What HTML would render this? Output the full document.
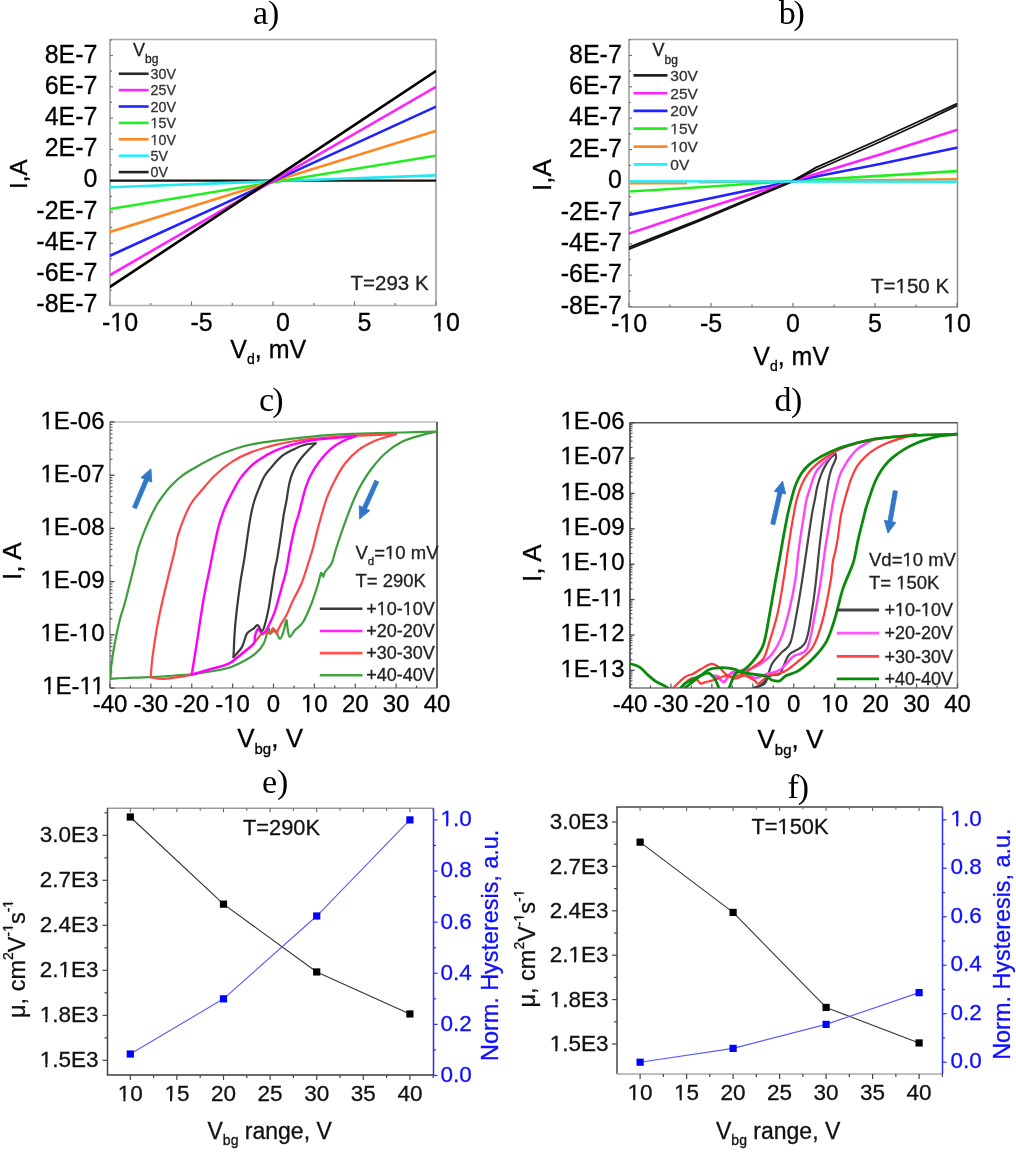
<!DOCTYPE html>
<html><head><meta charset="utf-8"><style>
html,body{margin:0;padding:0;background:#fff;overflow:hidden;}
svg{display:block;}
.blur{filter:blur(0.4px);}

</style></head><body>
<svg class="blur" width="1016" height="1152" viewBox="0 0 1016 1152">
<defs><clipPath id="clipa"><rect x="110" y="39.5" width="326" height="266.0"/></clipPath><clipPath id="clipb"><rect x="629" y="39.5" width="328.5" height="267.5"/></clipPath><clipPath id="clipc"><rect x="110" y="422" width="327" height="266"/></clipPath><clipPath id="clipd"><rect x="630" y="422.7" width="327.5" height="265.3"/></clipPath></defs>
<rect width="1016" height="1152" fill="#fff"/>
<line x1="109.50" y1="39.50" x2="436.50" y2="39.50" stroke="#a8a8a8" stroke-width="1.5"/>
<line x1="436.00" y1="39.50" x2="436.00" y2="305.50" stroke="#999" stroke-width="1.5"/>
<line x1="109.50" y1="305.50" x2="436.50" y2="305.50" stroke="#b0b0b0" stroke-width="1.5"/>
<line x1="110.00" y1="39.50" x2="110.00" y2="305.50" stroke="#999" stroke-width="1.5"/>
<line x1="110.00" y1="305.50" x2="110.00" y2="301.50" stroke="#777" stroke-width="1.2"/>
<line x1="191.50" y1="305.50" x2="191.50" y2="301.50" stroke="#777" stroke-width="1.2"/>
<line x1="273.00" y1="305.50" x2="273.00" y2="301.50" stroke="#777" stroke-width="1.2"/>
<line x1="354.50" y1="305.50" x2="354.50" y2="301.50" stroke="#777" stroke-width="1.2"/>
<line x1="436.00" y1="305.50" x2="436.00" y2="301.50" stroke="#777" stroke-width="1.2"/>
<line x1="150.75" y1="305.50" x2="150.75" y2="303.00" stroke="#777" stroke-width="1.2"/>
<line x1="232.25" y1="305.50" x2="232.25" y2="303.00" stroke="#777" stroke-width="1.2"/>
<line x1="313.75" y1="305.50" x2="313.75" y2="303.00" stroke="#777" stroke-width="1.2"/>
<line x1="395.25" y1="305.50" x2="395.25" y2="303.00" stroke="#777" stroke-width="1.2"/>
<line x1="110.00" y1="290.25" x2="112.00" y2="290.25" stroke="#777" stroke-width="1.2"/>
<line x1="110.00" y1="274.60" x2="113.00" y2="274.60" stroke="#777" stroke-width="1.2"/>
<line x1="110.00" y1="258.95" x2="112.00" y2="258.95" stroke="#777" stroke-width="1.2"/>
<line x1="110.00" y1="243.30" x2="113.00" y2="243.30" stroke="#777" stroke-width="1.2"/>
<line x1="110.00" y1="227.65" x2="112.00" y2="227.65" stroke="#777" stroke-width="1.2"/>
<line x1="110.00" y1="212.00" x2="113.00" y2="212.00" stroke="#777" stroke-width="1.2"/>
<line x1="110.00" y1="196.35" x2="112.00" y2="196.35" stroke="#777" stroke-width="1.2"/>
<line x1="110.00" y1="180.70" x2="113.00" y2="180.70" stroke="#777" stroke-width="1.2"/>
<line x1="110.00" y1="165.05" x2="112.00" y2="165.05" stroke="#777" stroke-width="1.2"/>
<line x1="110.00" y1="149.40" x2="113.00" y2="149.40" stroke="#777" stroke-width="1.2"/>
<line x1="110.00" y1="133.75" x2="112.00" y2="133.75" stroke="#777" stroke-width="1.2"/>
<line x1="110.00" y1="118.10" x2="113.00" y2="118.10" stroke="#777" stroke-width="1.2"/>
<line x1="110.00" y1="102.45" x2="112.00" y2="102.45" stroke="#777" stroke-width="1.2"/>
<line x1="110.00" y1="86.80" x2="113.00" y2="86.80" stroke="#777" stroke-width="1.2"/>
<line x1="110.00" y1="71.15" x2="112.00" y2="71.15" stroke="#777" stroke-width="1.2"/>
<line x1="110.00" y1="55.50" x2="113.00" y2="55.50" stroke="#777" stroke-width="1.2"/>
<line x1="110.00" y1="39.85" x2="112.00" y2="39.85" stroke="#777" stroke-width="1.2"/>
<text x="97.50" y="62.50" font-family="Liberation Sans" font-size="25" text-anchor="end" fill="#000" stroke="#000" stroke-width="0.3">8E-7</text>
<text x="97.50" y="93.72" font-family="Liberation Sans" font-size="25" text-anchor="end" fill="#000" stroke="#000" stroke-width="0.3">6E-7</text>
<text x="97.50" y="124.94" font-family="Liberation Sans" font-size="25" text-anchor="end" fill="#000" stroke="#000" stroke-width="0.3">4E-7</text>
<text x="97.50" y="156.16" font-family="Liberation Sans" font-size="25" text-anchor="end" fill="#000" stroke="#000" stroke-width="0.3">2E-7</text>
<text x="97.50" y="187.38" font-family="Liberation Sans" font-size="25" text-anchor="end" fill="#000" stroke="#000" stroke-width="0.3">0</text>
<text x="97.50" y="218.60" font-family="Liberation Sans" font-size="25" text-anchor="end" fill="#000" stroke="#000" stroke-width="0.3">-2E-7</text>
<text x="97.50" y="249.82" font-family="Liberation Sans" font-size="25" text-anchor="end" fill="#000" stroke="#000" stroke-width="0.3">-4E-7</text>
<text x="97.50" y="281.04" font-family="Liberation Sans" font-size="25" text-anchor="end" fill="#000" stroke="#000" stroke-width="0.3">-6E-7</text>
<text x="97.50" y="312.26" font-family="Liberation Sans" font-size="25" text-anchor="end" fill="#000" stroke="#000" stroke-width="0.3">-8E-7</text>
<text x="120.00" y="330.50" font-family="Liberation Sans" font-size="25" text-anchor="middle" fill="#000" stroke="#000" stroke-width="0.3">-10</text>
<text x="201.50" y="330.50" font-family="Liberation Sans" font-size="25" text-anchor="middle" fill="#000" stroke="#000" stroke-width="0.3">-5</text>
<text x="283.00" y="330.50" font-family="Liberation Sans" font-size="25" text-anchor="middle" fill="#000" stroke="#000" stroke-width="0.3">0</text>
<text x="364.50" y="330.50" font-family="Liberation Sans" font-size="25" text-anchor="middle" fill="#000" stroke="#000" stroke-width="0.3">5</text>
<text x="446.00" y="330.50" font-family="Liberation Sans" font-size="25" text-anchor="middle" fill="#000" stroke="#000" stroke-width="0.3">10</text>
<g clip-path="url(#clipa)">
<path d="M110.00,180.70 L436.00,180.70" fill="none" stroke="#111" stroke-width="2.2" stroke-linejoin="round" stroke-linecap="round"/>
<path d="M110.00,187.20 L435.50,175.40" fill="none" stroke="#22e8f0" stroke-width="2.6" stroke-linejoin="round" stroke-linecap="round"/>
<path d="M110.00,209.00 L435.50,155.70" fill="none" stroke="#22ee22" stroke-width="2.6" stroke-linejoin="round" stroke-linecap="round"/>
<path d="M110.00,231.90 L435.50,130.90" fill="none" stroke="#ff8822" stroke-width="2.6" stroke-linejoin="round" stroke-linecap="round"/>
<path d="M110.00,255.80 L435.50,106.90" fill="none" stroke="#2222ff" stroke-width="2.6" stroke-linejoin="round" stroke-linecap="round"/>
<path d="M110.00,275.00 L435.50,87.10" fill="none" stroke="#ff22ff" stroke-width="2.6" stroke-linejoin="round" stroke-linecap="round"/>
<path d="M110.00,286.90 L435.50,71.30" fill="none" stroke="#000" stroke-width="2.6" stroke-linejoin="round" stroke-linecap="round"/>
</g>
<text x="133.00" y="56.10" font-family="Liberation Sans" text-anchor="start" fill="#222" stroke="#222" stroke-width="0.3"><tspan font-size="18" dy="0">V</tspan><tspan font-size="12" dy="6.5">bg</tspan></text>
<line x1="118.70" y1="73.75" x2="148.60" y2="73.75" stroke="#2a2a2a" stroke-width="2.6"/>
<text x="150.60" y="79.05" font-family="Liberation Sans" font-size="14.3" text-anchor="start" fill="#333" stroke="#333" stroke-width="0.3">30V</text>
<line x1="118.70" y1="90.10" x2="148.60" y2="90.10" stroke="#ff22ff" stroke-width="2.6"/>
<text x="150.60" y="95.40" font-family="Liberation Sans" font-size="14.3" text-anchor="start" fill="#333" stroke="#333" stroke-width="0.3">25V</text>
<line x1="118.70" y1="106.50" x2="148.60" y2="106.50" stroke="#2222ff" stroke-width="2.6"/>
<text x="150.60" y="111.80" font-family="Liberation Sans" font-size="14.3" text-anchor="start" fill="#333" stroke="#333" stroke-width="0.3">20V</text>
<line x1="118.70" y1="122.90" x2="148.60" y2="122.90" stroke="#22ee22" stroke-width="2.6"/>
<text x="150.60" y="128.20" font-family="Liberation Sans" font-size="14.3" text-anchor="start" fill="#333" stroke="#333" stroke-width="0.3">15V</text>
<line x1="118.70" y1="139.30" x2="148.60" y2="139.30" stroke="#ff8822" stroke-width="2.6"/>
<text x="150.60" y="144.60" font-family="Liberation Sans" font-size="14.3" text-anchor="start" fill="#333" stroke="#333" stroke-width="0.3">10V</text>
<line x1="118.70" y1="155.70" x2="148.60" y2="155.70" stroke="#22eeff" stroke-width="2.6"/>
<text x="150.60" y="161.00" font-family="Liberation Sans" font-size="14.3" text-anchor="start" fill="#333" stroke="#333" stroke-width="0.3">5V</text>
<line x1="118.70" y1="172.10" x2="148.60" y2="172.10" stroke="#222" stroke-width="2.6"/>
<text x="150.60" y="177.40" font-family="Liberation Sans" font-size="14.3" text-anchor="start" fill="#333" stroke="#333" stroke-width="0.3">0V</text>
<text x="253.00" y="24.30" font-family="Liberation Serif" font-size="34" text-anchor="start" fill="#000">a</text>
<text x="268.00" y="24.30" font-family="Liberation Serif" font-size="34" text-anchor="start" fill="#000">)</text>
<text x="350.50" y="289.80" font-family="Liberation Sans" font-size="20.5" text-anchor="start" fill="#222" stroke="#222" stroke-width="0.3">T=293 K</text>
<text x="27.30" y="174.20" font-family="Liberation Sans" text-anchor="middle" fill="#000" stroke="#000" stroke-width="0.3" transform="rotate(-90 27.3 174.2)"><tspan font-size="24" dy="0">I,A</tspan></text>
<text x="230.30" y="358.00" font-family="Liberation Sans" text-anchor="start" fill="#000" stroke="#000" stroke-width="0.3"><tspan font-size="25" dy="0">V</tspan><tspan font-size="14" dy="6">d</tspan><tspan font-size="25" dy="-6">, mV</tspan></text>
<line x1="628.50" y1="39.50" x2="958.00" y2="39.50" stroke="#a0a0a0" stroke-width="1.5"/>
<line x1="957.50" y1="39.50" x2="957.50" y2="307.00" stroke="#8a8a8a" stroke-width="1.5"/>
<line x1="628.50" y1="307.00" x2="958.00" y2="307.00" stroke="#8a8a8a" stroke-width="1.5"/>
<line x1="629.00" y1="39.50" x2="629.00" y2="307.00" stroke="#999" stroke-width="1.5"/>
<line x1="629.00" y1="307.00" x2="629.00" y2="303.00" stroke="#777" stroke-width="1.2"/>
<line x1="711.00" y1="307.00" x2="711.00" y2="303.00" stroke="#777" stroke-width="1.2"/>
<line x1="793.00" y1="307.00" x2="793.00" y2="303.00" stroke="#777" stroke-width="1.2"/>
<line x1="875.00" y1="307.00" x2="875.00" y2="303.00" stroke="#777" stroke-width="1.2"/>
<line x1="957.00" y1="307.00" x2="957.00" y2="303.00" stroke="#777" stroke-width="1.2"/>
<line x1="670.00" y1="307.00" x2="670.00" y2="304.50" stroke="#777" stroke-width="1.2"/>
<line x1="752.00" y1="307.00" x2="752.00" y2="304.50" stroke="#777" stroke-width="1.2"/>
<line x1="834.00" y1="307.00" x2="834.00" y2="304.50" stroke="#777" stroke-width="1.2"/>
<line x1="916.00" y1="307.00" x2="916.00" y2="304.50" stroke="#777" stroke-width="1.2"/>
<line x1="629.00" y1="306.60" x2="632.00" y2="306.60" stroke="#777" stroke-width="1.2"/>
<line x1="629.00" y1="290.90" x2="631.00" y2="290.90" stroke="#777" stroke-width="1.2"/>
<line x1="629.00" y1="275.20" x2="632.00" y2="275.20" stroke="#777" stroke-width="1.2"/>
<line x1="629.00" y1="259.50" x2="631.00" y2="259.50" stroke="#777" stroke-width="1.2"/>
<line x1="629.00" y1="243.80" x2="632.00" y2="243.80" stroke="#777" stroke-width="1.2"/>
<line x1="629.00" y1="228.10" x2="631.00" y2="228.10" stroke="#777" stroke-width="1.2"/>
<line x1="629.00" y1="212.40" x2="632.00" y2="212.40" stroke="#777" stroke-width="1.2"/>
<line x1="629.00" y1="196.70" x2="631.00" y2="196.70" stroke="#777" stroke-width="1.2"/>
<line x1="629.00" y1="181.00" x2="632.00" y2="181.00" stroke="#777" stroke-width="1.2"/>
<line x1="629.00" y1="165.30" x2="631.00" y2="165.30" stroke="#777" stroke-width="1.2"/>
<line x1="629.00" y1="149.60" x2="632.00" y2="149.60" stroke="#777" stroke-width="1.2"/>
<line x1="629.00" y1="133.90" x2="631.00" y2="133.90" stroke="#777" stroke-width="1.2"/>
<line x1="629.00" y1="118.20" x2="632.00" y2="118.20" stroke="#777" stroke-width="1.2"/>
<line x1="629.00" y1="102.50" x2="631.00" y2="102.50" stroke="#777" stroke-width="1.2"/>
<line x1="629.00" y1="86.80" x2="632.00" y2="86.80" stroke="#777" stroke-width="1.2"/>
<line x1="629.00" y1="71.10" x2="631.00" y2="71.10" stroke="#777" stroke-width="1.2"/>
<line x1="629.00" y1="55.40" x2="632.00" y2="55.40" stroke="#777" stroke-width="1.2"/>
<line x1="629.00" y1="39.70" x2="631.00" y2="39.70" stroke="#777" stroke-width="1.2"/>
<text x="621.80" y="62.50" font-family="Liberation Sans" font-size="25" text-anchor="end" fill="#000" stroke="#000" stroke-width="0.3">8E-7</text>
<text x="621.80" y="93.90" font-family="Liberation Sans" font-size="25" text-anchor="end" fill="#000" stroke="#000" stroke-width="0.3">6E-7</text>
<text x="621.80" y="125.30" font-family="Liberation Sans" font-size="25" text-anchor="end" fill="#000" stroke="#000" stroke-width="0.3">4E-7</text>
<text x="621.80" y="156.70" font-family="Liberation Sans" font-size="25" text-anchor="end" fill="#000" stroke="#000" stroke-width="0.3">2E-7</text>
<text x="621.80" y="188.10" font-family="Liberation Sans" font-size="25" text-anchor="end" fill="#000" stroke="#000" stroke-width="0.3">0</text>
<text x="621.80" y="219.50" font-family="Liberation Sans" font-size="25" text-anchor="end" fill="#000" stroke="#000" stroke-width="0.3">-2E-7</text>
<text x="621.80" y="250.90" font-family="Liberation Sans" font-size="25" text-anchor="end" fill="#000" stroke="#000" stroke-width="0.3">-4E-7</text>
<text x="621.80" y="282.30" font-family="Liberation Sans" font-size="25" text-anchor="end" fill="#000" stroke="#000" stroke-width="0.3">-6E-7</text>
<text x="621.80" y="313.70" font-family="Liberation Sans" font-size="25" text-anchor="end" fill="#000" stroke="#000" stroke-width="0.3">-8E-7</text>
<text x="629.00" y="332.40" font-family="Liberation Sans" font-size="25" text-anchor="middle" fill="#000" stroke="#000" stroke-width="0.3">-10</text>
<text x="711.00" y="332.40" font-family="Liberation Sans" font-size="25" text-anchor="middle" fill="#000" stroke="#000" stroke-width="0.3">-5</text>
<text x="793.00" y="332.40" font-family="Liberation Sans" font-size="25" text-anchor="middle" fill="#000" stroke="#000" stroke-width="0.3">0</text>
<text x="875.00" y="332.40" font-family="Liberation Sans" font-size="25" text-anchor="middle" fill="#000" stroke="#000" stroke-width="0.3">5</text>
<text x="957.00" y="332.40" font-family="Liberation Sans" font-size="25" text-anchor="middle" fill="#000" stroke="#000" stroke-width="0.3">10</text>
<g clip-path="url(#clipb)">
<path d="M629.00,183.40 L686.00,183.40" fill="none" stroke="#ff8822" stroke-width="2.4" stroke-linejoin="round" stroke-linecap="round"/>
<path d="M700.00,182.20 L956.50,179.30" fill="none" stroke="#ff8822" stroke-width="2.4" stroke-linejoin="round" stroke-linecap="round"/>
<path d="M629.00,191.50 L700.00,187.20 L793.00,181.00 L880.00,175.90 L956.50,171.10" fill="none" stroke="#22ee22" stroke-width="2.6" stroke-linejoin="round" stroke-linecap="round"/>
<path d="M629.00,214.90 L700.00,200.60 L793.00,181.00 L880.00,164.00 L956.50,147.80" fill="none" stroke="#2222ff" stroke-width="2.6" stroke-linejoin="round" stroke-linecap="round"/>
<path d="M629.00,233.50 L700.00,210.10 L793.00,181.00 L880.00,154.40 L956.50,129.90" fill="none" stroke="#ff22ff" stroke-width="2.6" stroke-linejoin="round" stroke-linecap="round"/>
<path d="M629.00,247.30 L700.00,219.30 L793.00,180.60 L806.00,173.30 L815.70,167.60 L846.60,154.00 L878.10,140.00 L917.50,122.00 L956.50,103.90" fill="none" stroke="#111" stroke-width="1.8" stroke-linejoin="round" stroke-linecap="round"/>
<path d="M629.00,249.10 L700.00,220.60 L793.00,181.40 L806.00,174.60 L815.70,170.30 L846.60,156.80 L878.10,142.80 L917.50,124.80 L956.50,105.90" fill="none" stroke="#111" stroke-width="1.8" stroke-linejoin="round" stroke-linecap="round"/>
<path d="M629.00,181.20 L956.50,181.80" fill="none" stroke="#22eeff" stroke-width="2.6" stroke-linejoin="round" stroke-linecap="round"/>
</g>
<text x="652.50" y="56.00" font-family="Liberation Sans" text-anchor="start" fill="#222" stroke="#222" stroke-width="0.3"><tspan font-size="18" dy="0">V</tspan><tspan font-size="12" dy="7.8">bg</tspan></text>
<line x1="633.50" y1="75.40" x2="667.50" y2="75.40" stroke="#222" stroke-width="2.6"/>
<text x="670.30" y="80.70" font-family="Liberation Sans" font-size="15.5" text-anchor="start" fill="#333" stroke="#333" stroke-width="0.3">30V</text>
<line x1="633.50" y1="93.30" x2="667.50" y2="93.30" stroke="#ff22ff" stroke-width="2.6"/>
<text x="670.30" y="98.60" font-family="Liberation Sans" font-size="15.5" text-anchor="start" fill="#333" stroke="#333" stroke-width="0.3">25V</text>
<line x1="633.50" y1="110.90" x2="667.50" y2="110.90" stroke="#2222ff" stroke-width="2.6"/>
<text x="670.30" y="116.20" font-family="Liberation Sans" font-size="15.5" text-anchor="start" fill="#333" stroke="#333" stroke-width="0.3">20V</text>
<line x1="633.50" y1="128.60" x2="667.50" y2="128.60" stroke="#22ee22" stroke-width="2.6"/>
<text x="670.30" y="133.90" font-family="Liberation Sans" font-size="15.5" text-anchor="start" fill="#333" stroke="#333" stroke-width="0.3">15V</text>
<line x1="633.50" y1="146.60" x2="667.50" y2="146.60" stroke="#ff8822" stroke-width="2.6"/>
<text x="670.30" y="151.90" font-family="Liberation Sans" font-size="15.5" text-anchor="start" fill="#333" stroke="#333" stroke-width="0.3">10V</text>
<line x1="633.50" y1="164.40" x2="667.50" y2="164.40" stroke="#22eeff" stroke-width="2.6"/>
<text x="670.30" y="169.70" font-family="Liberation Sans" font-size="15.5" text-anchor="start" fill="#333" stroke="#333" stroke-width="0.3">0V</text>
<text x="778.70" y="24.40" font-family="Liberation Serif" font-size="34" text-anchor="start" fill="#000">b</text>
<text x="793.60" y="24.40" font-family="Liberation Serif" font-size="34" text-anchor="start" fill="#000">)</text>
<text x="871.00" y="293.00" font-family="Liberation Sans" font-size="20.5" text-anchor="start" fill="#222" stroke="#222" stroke-width="0.3">T=150 K</text>
<text x="551.00" y="175.10" font-family="Liberation Sans" text-anchor="middle" fill="#000" stroke="#000" stroke-width="0.3" transform="rotate(-90 551 175.1)"><tspan font-size="25.8" dy="0">I,A</tspan></text>
<text x="753.20" y="364.70" font-family="Liberation Sans" text-anchor="start" fill="#000" stroke="#000" stroke-width="0.3"><tspan font-size="25" dy="0">V</tspan><tspan font-size="14" dy="6">d</tspan><tspan font-size="25" dy="-6">, mV</tspan></text>
<line x1="109.50" y1="422.00" x2="437.50" y2="422.00" stroke="#bbb" stroke-width="1.5"/>
<line x1="437.00" y1="422.00" x2="437.00" y2="688.00" stroke="#333" stroke-width="1.5"/>
<line x1="109.50" y1="688.00" x2="437.50" y2="688.00" stroke="#999" stroke-width="1.5"/>
<line x1="110.00" y1="422.00" x2="110.00" y2="688.00" stroke="#888" stroke-width="1.5"/>
<line x1="110.00" y1="422.00" x2="114.50" y2="422.00" stroke="#444" stroke-width="1.3"/>
<line x1="110.00" y1="459.19" x2="112.50" y2="459.19" stroke="#555" stroke-width="1.1"/>
<line x1="110.00" y1="449.82" x2="112.50" y2="449.82" stroke="#555" stroke-width="1.1"/>
<line x1="110.00" y1="443.17" x2="112.50" y2="443.17" stroke="#555" stroke-width="1.1"/>
<line x1="110.00" y1="438.01" x2="112.50" y2="438.01" stroke="#555" stroke-width="1.1"/>
<line x1="110.00" y1="433.80" x2="112.50" y2="433.80" stroke="#555" stroke-width="1.1"/>
<line x1="110.00" y1="430.24" x2="112.50" y2="430.24" stroke="#555" stroke-width="1.1"/>
<line x1="110.00" y1="427.16" x2="112.50" y2="427.16" stroke="#555" stroke-width="1.1"/>
<line x1="110.00" y1="424.43" x2="112.50" y2="424.43" stroke="#555" stroke-width="1.1"/>
<line x1="110.00" y1="475.20" x2="114.50" y2="475.20" stroke="#444" stroke-width="1.3"/>
<line x1="110.00" y1="512.39" x2="112.50" y2="512.39" stroke="#555" stroke-width="1.1"/>
<line x1="110.00" y1="503.02" x2="112.50" y2="503.02" stroke="#555" stroke-width="1.1"/>
<line x1="110.00" y1="496.37" x2="112.50" y2="496.37" stroke="#555" stroke-width="1.1"/>
<line x1="110.00" y1="491.21" x2="112.50" y2="491.21" stroke="#555" stroke-width="1.1"/>
<line x1="110.00" y1="487.00" x2="112.50" y2="487.00" stroke="#555" stroke-width="1.1"/>
<line x1="110.00" y1="483.44" x2="112.50" y2="483.44" stroke="#555" stroke-width="1.1"/>
<line x1="110.00" y1="480.36" x2="112.50" y2="480.36" stroke="#555" stroke-width="1.1"/>
<line x1="110.00" y1="477.63" x2="112.50" y2="477.63" stroke="#555" stroke-width="1.1"/>
<line x1="110.00" y1="528.40" x2="114.50" y2="528.40" stroke="#444" stroke-width="1.3"/>
<line x1="110.00" y1="565.59" x2="112.50" y2="565.59" stroke="#555" stroke-width="1.1"/>
<line x1="110.00" y1="556.22" x2="112.50" y2="556.22" stroke="#555" stroke-width="1.1"/>
<line x1="110.00" y1="549.57" x2="112.50" y2="549.57" stroke="#555" stroke-width="1.1"/>
<line x1="110.00" y1="544.41" x2="112.50" y2="544.41" stroke="#555" stroke-width="1.1"/>
<line x1="110.00" y1="540.20" x2="112.50" y2="540.20" stroke="#555" stroke-width="1.1"/>
<line x1="110.00" y1="536.64" x2="112.50" y2="536.64" stroke="#555" stroke-width="1.1"/>
<line x1="110.00" y1="533.56" x2="112.50" y2="533.56" stroke="#555" stroke-width="1.1"/>
<line x1="110.00" y1="530.83" x2="112.50" y2="530.83" stroke="#555" stroke-width="1.1"/>
<line x1="110.00" y1="581.60" x2="114.50" y2="581.60" stroke="#444" stroke-width="1.3"/>
<line x1="110.00" y1="618.79" x2="112.50" y2="618.79" stroke="#555" stroke-width="1.1"/>
<line x1="110.00" y1="609.42" x2="112.50" y2="609.42" stroke="#555" stroke-width="1.1"/>
<line x1="110.00" y1="602.77" x2="112.50" y2="602.77" stroke="#555" stroke-width="1.1"/>
<line x1="110.00" y1="597.61" x2="112.50" y2="597.61" stroke="#555" stroke-width="1.1"/>
<line x1="110.00" y1="593.40" x2="112.50" y2="593.40" stroke="#555" stroke-width="1.1"/>
<line x1="110.00" y1="589.84" x2="112.50" y2="589.84" stroke="#555" stroke-width="1.1"/>
<line x1="110.00" y1="586.76" x2="112.50" y2="586.76" stroke="#555" stroke-width="1.1"/>
<line x1="110.00" y1="584.03" x2="112.50" y2="584.03" stroke="#555" stroke-width="1.1"/>
<line x1="110.00" y1="634.80" x2="114.50" y2="634.80" stroke="#444" stroke-width="1.3"/>
<line x1="110.00" y1="671.99" x2="112.50" y2="671.99" stroke="#555" stroke-width="1.1"/>
<line x1="110.00" y1="662.62" x2="112.50" y2="662.62" stroke="#555" stroke-width="1.1"/>
<line x1="110.00" y1="655.97" x2="112.50" y2="655.97" stroke="#555" stroke-width="1.1"/>
<line x1="110.00" y1="650.81" x2="112.50" y2="650.81" stroke="#555" stroke-width="1.1"/>
<line x1="110.00" y1="646.60" x2="112.50" y2="646.60" stroke="#555" stroke-width="1.1"/>
<line x1="110.00" y1="643.04" x2="112.50" y2="643.04" stroke="#555" stroke-width="1.1"/>
<line x1="110.00" y1="639.96" x2="112.50" y2="639.96" stroke="#555" stroke-width="1.1"/>
<line x1="110.00" y1="637.23" x2="112.50" y2="637.23" stroke="#555" stroke-width="1.1"/>
<line x1="110.00" y1="688.00" x2="114.50" y2="688.00" stroke="#444" stroke-width="1.3"/>
<line x1="110.00" y1="688.00" x2="110.00" y2="683.50" stroke="#555" stroke-width="1.2"/>
<line x1="150.88" y1="688.00" x2="150.88" y2="683.50" stroke="#555" stroke-width="1.2"/>
<line x1="191.75" y1="688.00" x2="191.75" y2="683.50" stroke="#555" stroke-width="1.2"/>
<line x1="232.62" y1="688.00" x2="232.62" y2="683.50" stroke="#555" stroke-width="1.2"/>
<line x1="273.50" y1="688.00" x2="273.50" y2="683.50" stroke="#555" stroke-width="1.2"/>
<line x1="314.38" y1="688.00" x2="314.38" y2="683.50" stroke="#555" stroke-width="1.2"/>
<line x1="355.25" y1="688.00" x2="355.25" y2="683.50" stroke="#555" stroke-width="1.2"/>
<line x1="396.12" y1="688.00" x2="396.12" y2="683.50" stroke="#555" stroke-width="1.2"/>
<line x1="437.00" y1="688.00" x2="437.00" y2="683.50" stroke="#555" stroke-width="1.2"/>
<line x1="130.44" y1="688.00" x2="130.44" y2="685.50" stroke="#555" stroke-width="1.2"/>
<line x1="171.31" y1="688.00" x2="171.31" y2="685.50" stroke="#555" stroke-width="1.2"/>
<line x1="212.19" y1="688.00" x2="212.19" y2="685.50" stroke="#555" stroke-width="1.2"/>
<line x1="253.06" y1="688.00" x2="253.06" y2="685.50" stroke="#555" stroke-width="1.2"/>
<line x1="293.94" y1="688.00" x2="293.94" y2="685.50" stroke="#555" stroke-width="1.2"/>
<line x1="334.81" y1="688.00" x2="334.81" y2="685.50" stroke="#555" stroke-width="1.2"/>
<line x1="375.69" y1="688.00" x2="375.69" y2="685.50" stroke="#555" stroke-width="1.2"/>
<line x1="416.56" y1="688.00" x2="416.56" y2="685.50" stroke="#555" stroke-width="1.2"/>
<text x="104.50" y="428.90" font-family="Liberation Sans" font-size="24" text-anchor="end" fill="#000" stroke="#000" stroke-width="0.3">1E-06</text>
<text x="104.50" y="481.84" font-family="Liberation Sans" font-size="24" text-anchor="end" fill="#000" stroke="#000" stroke-width="0.3">1E-07</text>
<text x="104.50" y="534.78" font-family="Liberation Sans" font-size="24" text-anchor="end" fill="#000" stroke="#000" stroke-width="0.3">1E-08</text>
<text x="104.50" y="587.72" font-family="Liberation Sans" font-size="24" text-anchor="end" fill="#000" stroke="#000" stroke-width="0.3">1E-09</text>
<text x="104.50" y="640.66" font-family="Liberation Sans" font-size="24" text-anchor="end" fill="#000" stroke="#000" stroke-width="0.3">1E-10</text>
<text x="104.50" y="693.60" font-family="Liberation Sans" font-size="24" text-anchor="end" fill="#000" stroke="#000" stroke-width="0.3">1E-11</text>
<text x="110.00" y="711.70" font-family="Liberation Sans" font-size="24" text-anchor="middle" fill="#000" stroke="#000" stroke-width="0.3">-40</text>
<text x="150.88" y="711.70" font-family="Liberation Sans" font-size="24" text-anchor="middle" fill="#000" stroke="#000" stroke-width="0.3">-30</text>
<text x="191.75" y="711.70" font-family="Liberation Sans" font-size="24" text-anchor="middle" fill="#000" stroke="#000" stroke-width="0.3">-20</text>
<text x="232.62" y="711.70" font-family="Liberation Sans" font-size="24" text-anchor="middle" fill="#000" stroke="#000" stroke-width="0.3">-10</text>
<text x="273.50" y="711.70" font-family="Liberation Sans" font-size="24" text-anchor="middle" fill="#000" stroke="#000" stroke-width="0.3">0</text>
<text x="314.38" y="711.70" font-family="Liberation Sans" font-size="24" text-anchor="middle" fill="#000" stroke="#000" stroke-width="0.3">10</text>
<text x="355.25" y="711.70" font-family="Liberation Sans" font-size="24" text-anchor="middle" fill="#000" stroke="#000" stroke-width="0.3">20</text>
<text x="396.12" y="711.70" font-family="Liberation Sans" font-size="24" text-anchor="middle" fill="#000" stroke="#000" stroke-width="0.3">30</text>
<text x="437.00" y="711.70" font-family="Liberation Sans" font-size="24" text-anchor="middle" fill="#000" stroke="#000" stroke-width="0.3">40</text>
<g clip-path="url(#clipc)">
<path d="M437.00,431.50 C434.48,432.10 427.75,433.38 421.90,435.10 C416.05,436.82 408.03,438.73 401.90,441.80 C395.77,444.87 390.13,449.05 385.10,453.50 C380.07,457.95 375.60,463.48 371.70,468.50 C367.80,473.52 364.48,478.85 361.70,483.60 C358.92,488.35 357.23,491.98 355.00,497.00 C352.77,502.02 350.53,507.85 348.30,513.70 C346.07,519.55 343.73,525.97 341.60,532.10 C339.47,538.23 337.17,545.28 335.50,550.50 C333.83,555.72 333.35,559.82 331.60,563.40 C329.85,566.98 326.40,569.77 325.00,572.00 C323.60,574.23 323.87,576.63 323.20,576.80 C322.53,576.97 321.83,571.88 321.00,573.00 C320.17,574.12 319.78,578.42 318.20,583.50 C316.62,588.58 314.02,597.08 311.50,603.50 C308.98,609.92 305.88,617.53 303.10,622.00 C300.32,626.47 297.02,627.80 294.80,630.30 C292.58,632.80 291.02,637.38 289.80,637.00 C288.58,636.62 288.07,630.78 287.50,628.00 C286.93,625.22 287.15,619.47 286.40,620.30 C285.65,621.13 284.12,629.93 283.00,633.00 C281.88,636.07 280.98,639.15 279.70,638.70 C278.42,638.25 276.92,631.08 275.30,630.30 C273.68,629.52 271.12,634.28 270.00,634.00 C268.88,633.72 269.67,626.98 268.60,628.60 C267.53,630.22 265.82,639.52 263.60,643.70 C261.38,647.88 258.92,650.63 255.30,653.70 C251.68,656.77 246.93,659.58 241.90,662.10 C236.87,664.62 233.47,666.77 225.10,668.80 C216.73,670.83 200.07,673.18 191.70,674.30 C183.33,675.42 181.88,675.02 174.90,675.50 C167.92,675.98 158.17,676.78 149.80,677.20 C141.43,677.62 131.25,677.73 124.70,678.00 C118.15,678.27 112.87,678.67 110.50,678.80" fill="none" stroke="#3d9e3d" stroke-width="2.2" stroke-linejoin="round" stroke-linecap="round"/>
<path d="M110.50,678.80 C110.63,676.58 110.60,671.35 111.30,665.50 C112.00,659.65 113.30,651.23 114.70,643.70 C116.10,636.17 118.03,627.00 119.70,620.30 C121.37,613.60 123.02,609.63 124.70,603.50 C126.38,597.37 128.12,590.18 129.80,583.50 C131.48,576.82 133.33,569.45 134.80,563.40 C136.27,557.35 136.37,554.08 138.60,547.20 C140.83,540.32 145.22,529.08 148.20,522.10 C151.18,515.12 154.00,509.77 156.50,505.30 C159.00,500.83 160.68,498.63 163.20,495.30 C165.72,491.97 168.53,488.50 171.60,485.30 C174.67,482.10 177.70,479.03 181.60,476.10 C185.50,473.17 190.53,470.35 195.00,467.70 C199.47,465.05 203.38,462.72 208.40,460.20 C213.42,457.68 219.52,454.83 225.10,452.60 C230.68,450.37 236.32,448.38 241.90,446.80 C247.48,445.22 252.58,444.17 258.60,443.10 C264.62,442.03 270.85,441.32 278.00,440.40 C285.15,439.48 292.02,438.55 301.50,437.60 C310.98,436.65 323.75,435.40 334.90,434.70 C346.05,434.00 357.23,433.77 368.40,433.40 C379.57,433.03 390.47,432.82 401.90,432.50 C413.33,432.18 431.15,431.67 437.00,431.50" fill="none" stroke="#3d9e3d" stroke-width="2.2" stroke-linejoin="round" stroke-linecap="round"/>
<path d="M396.00,434.20 C392.80,435.18 383.07,437.45 376.80,440.10 C370.53,442.75 363.70,446.20 358.40,450.10 C353.10,454.00 348.92,458.48 345.00,463.50 C341.08,468.52 337.97,474.35 334.90,480.20 C331.83,486.05 329.38,490.78 326.60,498.60 C323.82,506.42 320.43,519.00 318.20,527.10 C315.97,535.20 314.87,541.15 313.20,547.20 C311.53,553.25 310.15,557.35 308.20,563.40 C306.25,569.45 304.02,577.37 301.50,583.50 C298.98,589.63 295.62,594.90 293.10,600.20 C290.58,605.50 288.35,611.40 286.40,615.30 C284.45,619.20 282.80,621.15 281.40,623.60 C280.00,626.05 278.83,628.32 278.00,630.00 C277.17,631.68 277.23,634.03 276.40,633.70 C275.57,633.37 274.07,628.12 273.00,628.00 C271.93,627.88 271.83,632.05 270.00,633.00 C268.17,633.95 264.73,631.92 262.00,633.70 C259.27,635.48 256.95,640.37 253.60,643.70 C250.25,647.03 246.08,650.35 241.90,653.70 C237.72,657.05 233.53,661.28 228.50,663.80 C223.47,666.32 217.83,666.98 211.70,668.80 C205.57,670.62 196.43,673.45 191.70,674.70 C186.97,675.95 188.05,675.62 183.30,676.30 C178.55,676.98 168.63,678.65 163.20,678.80 C157.77,678.95 152.78,677.47 150.70,677.20" fill="none" stroke="#ff4545" stroke-width="2.2" stroke-linejoin="round" stroke-linecap="round"/>
<path d="M150.70,677.20 C150.97,674.13 151.33,666.62 152.30,658.80 C153.27,650.98 154.97,639.23 156.50,630.30 C158.03,621.37 159.55,614.12 161.50,605.20 C163.45,596.28 165.97,586.00 168.20,576.80 C170.43,567.60 173.22,557.17 174.90,550.00 C176.58,542.83 175.78,541.25 178.30,533.80 C180.82,526.35 186.10,512.55 190.00,505.30 C193.90,498.05 197.52,495.32 201.70,490.30 C205.88,485.28 210.08,479.95 215.10,475.20 C220.12,470.45 225.95,465.57 231.80,461.80 C237.65,458.03 242.50,455.52 250.20,452.60 C257.90,449.68 269.45,446.40 278.00,444.30 C286.55,442.20 292.83,441.17 301.50,440.00 C310.17,438.83 321.63,437.98 330.00,437.30 C338.37,436.62 340.70,436.42 351.70,435.90 C362.70,435.38 388.62,434.48 396.00,434.20" fill="none" stroke="#ff4545" stroke-width="2.2" stroke-linejoin="round" stroke-linecap="round"/>
<path d="M355.80,436.20 C353.43,437.13 345.90,439.55 341.60,441.80 C337.30,444.05 333.83,446.25 330.00,449.70 C326.17,453.15 321.82,458.23 318.60,462.50 C315.38,466.77 312.83,471.20 310.70,475.30 C308.57,479.40 307.20,482.98 305.80,487.10 C304.40,491.22 303.52,495.35 302.30,500.00 C301.08,504.65 299.75,510.48 298.50,515.00 C297.25,519.52 296.25,521.18 294.80,527.10 C293.35,533.02 291.20,543.33 289.80,550.50 C288.40,557.67 287.80,563.77 286.40,570.10 C285.00,576.43 283.35,581.53 281.40,588.50 C279.45,595.47 276.93,605.48 274.70,611.90 C272.47,618.32 269.62,623.65 268.00,627.00 C266.38,630.35 266.00,630.88 265.00,632.00 C264.00,633.12 263.17,634.20 262.00,633.70 C260.83,633.20 259.17,628.62 258.00,629.00 C256.83,629.38 255.73,633.55 255.00,636.00 C254.27,638.45 255.78,640.75 253.60,643.70 C251.42,646.65 246.08,650.35 241.90,653.70 C237.72,657.05 233.53,661.28 228.50,663.80 C223.47,666.32 217.83,666.98 211.70,668.80 C205.57,670.62 195.03,673.72 191.70,674.70" fill="none" stroke="#ff00ff" stroke-width="2.4" stroke-linejoin="round" stroke-linecap="round"/>
<path d="M191.70,674.70 C192.53,669.53 194.75,656.12 196.70,643.70 C198.65,631.28 201.17,613.03 203.40,600.20 C205.63,587.37 208.43,575.07 210.10,566.70 C211.77,558.33 212.02,556.60 213.40,550.00 C214.78,543.40 216.63,533.77 218.40,527.10 C220.17,520.43 222.07,515.03 224.00,510.00 C225.93,504.97 227.37,502.03 230.00,496.90 C232.63,491.77 236.52,484.12 239.80,479.20 C243.08,474.28 246.42,470.68 249.70,467.40 C252.98,464.12 255.40,462.20 259.50,459.50 C263.60,456.80 269.37,453.50 274.30,451.20 C279.23,448.90 284.18,447.27 289.10,445.70 C294.02,444.13 298.88,442.85 303.80,441.80 C308.72,440.75 314.23,439.97 318.60,439.40 C322.97,438.83 323.80,438.93 330.00,438.40 C336.20,437.87 351.50,436.57 355.80,436.20" fill="none" stroke="#ff00ff" stroke-width="2.4" stroke-linejoin="round" stroke-linecap="round"/>
<path d="M315.60,443.30 C314.45,444.37 311.15,447.17 308.70,449.70 C306.25,452.23 303.18,455.55 300.90,458.50 C298.62,461.45 296.65,464.28 295.00,467.40 C293.35,470.52 292.07,473.92 291.00,477.20 C289.93,480.48 289.33,483.30 288.60,487.10 C287.87,490.90 287.38,495.57 286.60,500.00 C285.82,504.43 284.92,507.52 283.90,513.70 C282.88,519.88 281.62,529.65 280.50,537.10 C279.38,544.55 278.17,552.92 277.20,558.40 C276.23,563.88 275.68,564.43 274.70,570.00 C273.72,575.57 272.32,585.37 271.30,591.80 C270.28,598.23 269.73,602.90 268.60,608.60 C267.47,614.30 265.60,622.27 264.50,626.00 C263.40,629.73 263.00,631.00 262.00,631.00 C261.00,631.00 259.35,626.95 258.50,626.00 C257.65,625.05 257.72,624.87 256.90,625.30 C256.08,625.73 255.27,627.20 253.60,628.60 C251.93,630.00 248.85,630.62 246.90,633.70 C244.95,636.78 244.13,643.20 241.90,647.10 C239.67,651.00 234.90,655.43 233.50,657.10" fill="none" stroke="#3a3a3a" stroke-width="2.2" stroke-linejoin="round" stroke-linecap="round"/>
<path d="M233.50,657.10 C233.78,651.80 234.08,637.57 235.20,625.30 C236.32,613.03 238.67,594.65 240.20,583.50 C241.73,572.35 243.00,567.52 244.40,558.40 C245.80,549.28 247.42,536.53 248.60,528.80 C249.78,521.07 250.50,516.80 251.50,512.00 C252.50,507.20 253.27,504.15 254.60,500.00 C255.93,495.85 257.87,491.05 259.50,487.10 C261.13,483.15 262.43,479.58 264.40,476.30 C266.37,473.02 268.50,470.68 271.30,467.40 C274.10,464.12 277.58,459.55 281.20,456.60 C284.82,453.65 289.07,451.67 293.00,449.70 C296.93,447.73 301.03,445.87 304.80,444.80 C308.57,443.73 313.80,443.55 315.60,443.30" fill="none" stroke="#3a3a3a" stroke-width="2.2" stroke-linejoin="round" stroke-linecap="round"/>
</g>
<line x1="319.80" y1="608.70" x2="362.50" y2="608.70" stroke="#3a3a3a" stroke-width="2.6"/>
<text x="366.30" y="614.90" font-family="Liberation Sans" font-size="18" text-anchor="start" fill="#222" stroke="#222" stroke-width="0.3">+10-10V</text>
<line x1="319.80" y1="631.00" x2="362.50" y2="631.00" stroke="#ff22ff" stroke-width="2.6"/>
<text x="366.30" y="637.20" font-family="Liberation Sans" font-size="18" text-anchor="start" fill="#222" stroke="#222" stroke-width="0.3">+20-20V</text>
<line x1="319.80" y1="653.10" x2="362.50" y2="653.10" stroke="#ff5050" stroke-width="2.6"/>
<text x="366.30" y="659.30" font-family="Liberation Sans" font-size="18" text-anchor="start" fill="#222" stroke="#222" stroke-width="0.3">+30-30V</text>
<line x1="319.80" y1="675.20" x2="362.50" y2="675.20" stroke="#45a545" stroke-width="2.6"/>
<text x="366.30" y="681.40" font-family="Liberation Sans" font-size="18" text-anchor="start" fill="#222" stroke="#222" stroke-width="0.3">+40-40V</text>
<text x="258.90" y="410.50" font-family="Liberation Serif" font-size="34" text-anchor="start" fill="#000">c</text>
<text x="272.20" y="410.50" font-family="Liberation Serif" font-size="34" text-anchor="start" fill="#000">)</text>
<text x="355.50" y="558.60" font-family="Liberation Sans" text-anchor="start" fill="#222" stroke="#222" stroke-width="0.3"><tspan font-size="18.5" dy="0">V</tspan><tspan font-size="11.5" dy="6.5">d</tspan><tspan font-size="18.5" dy="-6.5">=10 mV</tspan></text>
<text x="355.50" y="586.80" font-family="Liberation Sans" font-size="18.5" text-anchor="start" fill="#222" stroke="#222" stroke-width="0.3">T= 290K</text>
<text x="21.00" y="561.20" font-family="Liberation Sans" text-anchor="middle" fill="#000" stroke="#000" stroke-width="0.3" transform="rotate(-90 21 561.2)"><tspan font-size="26" dy="0">I, A</tspan></text>
<text x="237.20" y="747.10" font-family="Liberation Sans" text-anchor="start" fill="#000" stroke="#000" stroke-width="0.3"><tspan font-size="26" dy="0">V</tspan><tspan font-size="15" dy="7">bg</tspan><tspan font-size="26" dy="-7">, V</tspan></text>
<path d="M136.44,508.81 L148.28,480.67 L151.78,482.15 L151.00,468.80 L140.91,477.57 L144.41,479.05 L132.56,507.19Z" fill="#3077c9" stroke="#3077c9" stroke-width="0.8" stroke-linejoin="round"/>
<path d="M374.89,480.23 L362.65,507.20 L359.19,505.63 L359.60,519.00 L369.93,510.51 L366.47,508.94 L378.71,481.97Z" fill="#3077c9" stroke="#3077c9" stroke-width="0.8" stroke-linejoin="round"/>
<line x1="629.50" y1="422.70" x2="958.00" y2="422.70" stroke="#555" stroke-width="1.5"/>
<line x1="957.50" y1="422.70" x2="957.50" y2="688.00" stroke="#888" stroke-width="1.5"/>
<line x1="629.50" y1="688.00" x2="958.00" y2="688.00" stroke="#777" stroke-width="1.5"/>
<line x1="630.00" y1="422.70" x2="630.00" y2="688.00" stroke="#333" stroke-width="1.5"/>
<line x1="630.00" y1="422.70" x2="634.50" y2="422.70" stroke="#444" stroke-width="1.3"/>
<line x1="630.00" y1="447.42" x2="632.50" y2="447.42" stroke="#555" stroke-width="1.1"/>
<line x1="630.00" y1="441.19" x2="632.50" y2="441.19" stroke="#555" stroke-width="1.1"/>
<line x1="630.00" y1="436.78" x2="632.50" y2="436.78" stroke="#555" stroke-width="1.1"/>
<line x1="630.00" y1="433.35" x2="632.50" y2="433.35" stroke="#555" stroke-width="1.1"/>
<line x1="630.00" y1="430.55" x2="632.50" y2="430.55" stroke="#555" stroke-width="1.1"/>
<line x1="630.00" y1="428.18" x2="632.50" y2="428.18" stroke="#555" stroke-width="1.1"/>
<line x1="630.00" y1="426.13" x2="632.50" y2="426.13" stroke="#555" stroke-width="1.1"/>
<line x1="630.00" y1="424.32" x2="632.50" y2="424.32" stroke="#555" stroke-width="1.1"/>
<line x1="630.00" y1="458.07" x2="634.50" y2="458.07" stroke="#444" stroke-width="1.3"/>
<line x1="630.00" y1="482.79" x2="632.50" y2="482.79" stroke="#555" stroke-width="1.1"/>
<line x1="630.00" y1="476.56" x2="632.50" y2="476.56" stroke="#555" stroke-width="1.1"/>
<line x1="630.00" y1="472.15" x2="632.50" y2="472.15" stroke="#555" stroke-width="1.1"/>
<line x1="630.00" y1="468.72" x2="632.50" y2="468.72" stroke="#555" stroke-width="1.1"/>
<line x1="630.00" y1="465.92" x2="632.50" y2="465.92" stroke="#555" stroke-width="1.1"/>
<line x1="630.00" y1="463.55" x2="632.50" y2="463.55" stroke="#555" stroke-width="1.1"/>
<line x1="630.00" y1="461.50" x2="632.50" y2="461.50" stroke="#555" stroke-width="1.1"/>
<line x1="630.00" y1="459.69" x2="632.50" y2="459.69" stroke="#555" stroke-width="1.1"/>
<line x1="630.00" y1="493.44" x2="634.50" y2="493.44" stroke="#444" stroke-width="1.3"/>
<line x1="630.00" y1="518.16" x2="632.50" y2="518.16" stroke="#555" stroke-width="1.1"/>
<line x1="630.00" y1="511.93" x2="632.50" y2="511.93" stroke="#555" stroke-width="1.1"/>
<line x1="630.00" y1="507.52" x2="632.50" y2="507.52" stroke="#555" stroke-width="1.1"/>
<line x1="630.00" y1="504.09" x2="632.50" y2="504.09" stroke="#555" stroke-width="1.1"/>
<line x1="630.00" y1="501.29" x2="632.50" y2="501.29" stroke="#555" stroke-width="1.1"/>
<line x1="630.00" y1="498.92" x2="632.50" y2="498.92" stroke="#555" stroke-width="1.1"/>
<line x1="630.00" y1="496.87" x2="632.50" y2="496.87" stroke="#555" stroke-width="1.1"/>
<line x1="630.00" y1="495.06" x2="632.50" y2="495.06" stroke="#555" stroke-width="1.1"/>
<line x1="630.00" y1="528.81" x2="634.50" y2="528.81" stroke="#444" stroke-width="1.3"/>
<line x1="630.00" y1="553.53" x2="632.50" y2="553.53" stroke="#555" stroke-width="1.1"/>
<line x1="630.00" y1="547.30" x2="632.50" y2="547.30" stroke="#555" stroke-width="1.1"/>
<line x1="630.00" y1="542.89" x2="632.50" y2="542.89" stroke="#555" stroke-width="1.1"/>
<line x1="630.00" y1="539.46" x2="632.50" y2="539.46" stroke="#555" stroke-width="1.1"/>
<line x1="630.00" y1="536.66" x2="632.50" y2="536.66" stroke="#555" stroke-width="1.1"/>
<line x1="630.00" y1="534.29" x2="632.50" y2="534.29" stroke="#555" stroke-width="1.1"/>
<line x1="630.00" y1="532.24" x2="632.50" y2="532.24" stroke="#555" stroke-width="1.1"/>
<line x1="630.00" y1="530.43" x2="632.50" y2="530.43" stroke="#555" stroke-width="1.1"/>
<line x1="630.00" y1="564.18" x2="634.50" y2="564.18" stroke="#444" stroke-width="1.3"/>
<line x1="630.00" y1="588.90" x2="632.50" y2="588.90" stroke="#555" stroke-width="1.1"/>
<line x1="630.00" y1="582.67" x2="632.50" y2="582.67" stroke="#555" stroke-width="1.1"/>
<line x1="630.00" y1="578.26" x2="632.50" y2="578.26" stroke="#555" stroke-width="1.1"/>
<line x1="630.00" y1="574.83" x2="632.50" y2="574.83" stroke="#555" stroke-width="1.1"/>
<line x1="630.00" y1="572.03" x2="632.50" y2="572.03" stroke="#555" stroke-width="1.1"/>
<line x1="630.00" y1="569.66" x2="632.50" y2="569.66" stroke="#555" stroke-width="1.1"/>
<line x1="630.00" y1="567.61" x2="632.50" y2="567.61" stroke="#555" stroke-width="1.1"/>
<line x1="630.00" y1="565.80" x2="632.50" y2="565.80" stroke="#555" stroke-width="1.1"/>
<line x1="630.00" y1="599.55" x2="634.50" y2="599.55" stroke="#444" stroke-width="1.3"/>
<line x1="630.00" y1="624.27" x2="632.50" y2="624.27" stroke="#555" stroke-width="1.1"/>
<line x1="630.00" y1="618.04" x2="632.50" y2="618.04" stroke="#555" stroke-width="1.1"/>
<line x1="630.00" y1="613.63" x2="632.50" y2="613.63" stroke="#555" stroke-width="1.1"/>
<line x1="630.00" y1="610.20" x2="632.50" y2="610.20" stroke="#555" stroke-width="1.1"/>
<line x1="630.00" y1="607.40" x2="632.50" y2="607.40" stroke="#555" stroke-width="1.1"/>
<line x1="630.00" y1="605.03" x2="632.50" y2="605.03" stroke="#555" stroke-width="1.1"/>
<line x1="630.00" y1="602.98" x2="632.50" y2="602.98" stroke="#555" stroke-width="1.1"/>
<line x1="630.00" y1="601.17" x2="632.50" y2="601.17" stroke="#555" stroke-width="1.1"/>
<line x1="630.00" y1="634.92" x2="634.50" y2="634.92" stroke="#444" stroke-width="1.3"/>
<line x1="630.00" y1="659.64" x2="632.50" y2="659.64" stroke="#555" stroke-width="1.1"/>
<line x1="630.00" y1="653.41" x2="632.50" y2="653.41" stroke="#555" stroke-width="1.1"/>
<line x1="630.00" y1="649.00" x2="632.50" y2="649.00" stroke="#555" stroke-width="1.1"/>
<line x1="630.00" y1="645.57" x2="632.50" y2="645.57" stroke="#555" stroke-width="1.1"/>
<line x1="630.00" y1="642.77" x2="632.50" y2="642.77" stroke="#555" stroke-width="1.1"/>
<line x1="630.00" y1="640.40" x2="632.50" y2="640.40" stroke="#555" stroke-width="1.1"/>
<line x1="630.00" y1="638.35" x2="632.50" y2="638.35" stroke="#555" stroke-width="1.1"/>
<line x1="630.00" y1="636.54" x2="632.50" y2="636.54" stroke="#555" stroke-width="1.1"/>
<line x1="630.00" y1="670.29" x2="634.50" y2="670.29" stroke="#444" stroke-width="1.3"/>
<line x1="630.00" y1="684.37" x2="632.50" y2="684.37" stroke="#555" stroke-width="1.1"/>
<line x1="630.00" y1="680.94" x2="632.50" y2="680.94" stroke="#555" stroke-width="1.1"/>
<line x1="630.00" y1="678.14" x2="632.50" y2="678.14" stroke="#555" stroke-width="1.1"/>
<line x1="630.00" y1="675.77" x2="632.50" y2="675.77" stroke="#555" stroke-width="1.1"/>
<line x1="630.00" y1="673.72" x2="632.50" y2="673.72" stroke="#555" stroke-width="1.1"/>
<line x1="630.00" y1="671.91" x2="632.50" y2="671.91" stroke="#555" stroke-width="1.1"/>
<line x1="629.99" y1="688.00" x2="629.99" y2="683.50" stroke="#555" stroke-width="1.2"/>
<line x1="670.93" y1="688.00" x2="670.93" y2="683.50" stroke="#555" stroke-width="1.2"/>
<line x1="711.87" y1="688.00" x2="711.87" y2="683.50" stroke="#555" stroke-width="1.2"/>
<line x1="752.81" y1="688.00" x2="752.81" y2="683.50" stroke="#555" stroke-width="1.2"/>
<line x1="793.75" y1="688.00" x2="793.75" y2="683.50" stroke="#555" stroke-width="1.2"/>
<line x1="834.69" y1="688.00" x2="834.69" y2="683.50" stroke="#555" stroke-width="1.2"/>
<line x1="875.63" y1="688.00" x2="875.63" y2="683.50" stroke="#555" stroke-width="1.2"/>
<line x1="916.57" y1="688.00" x2="916.57" y2="683.50" stroke="#555" stroke-width="1.2"/>
<line x1="957.51" y1="688.00" x2="957.51" y2="683.50" stroke="#555" stroke-width="1.2"/>
<line x1="650.46" y1="688.00" x2="650.46" y2="685.50" stroke="#555" stroke-width="1.2"/>
<line x1="691.40" y1="688.00" x2="691.40" y2="685.50" stroke="#555" stroke-width="1.2"/>
<line x1="732.34" y1="688.00" x2="732.34" y2="685.50" stroke="#555" stroke-width="1.2"/>
<line x1="773.28" y1="688.00" x2="773.28" y2="685.50" stroke="#555" stroke-width="1.2"/>
<line x1="814.22" y1="688.00" x2="814.22" y2="685.50" stroke="#555" stroke-width="1.2"/>
<line x1="855.16" y1="688.00" x2="855.16" y2="685.50" stroke="#555" stroke-width="1.2"/>
<line x1="896.10" y1="688.00" x2="896.10" y2="685.50" stroke="#555" stroke-width="1.2"/>
<line x1="937.04" y1="688.00" x2="937.04" y2="685.50" stroke="#555" stroke-width="1.2"/>
<text x="624.50" y="428.90" font-family="Liberation Sans" font-size="24" text-anchor="end" fill="#000" stroke="#000" stroke-width="0.3">1E-06</text>
<text x="624.50" y="464.29" font-family="Liberation Sans" font-size="24" text-anchor="end" fill="#000" stroke="#000" stroke-width="0.3">1E-07</text>
<text x="624.50" y="499.68" font-family="Liberation Sans" font-size="24" text-anchor="end" fill="#000" stroke="#000" stroke-width="0.3">1E-08</text>
<text x="624.50" y="535.07" font-family="Liberation Sans" font-size="24" text-anchor="end" fill="#000" stroke="#000" stroke-width="0.3">1E-09</text>
<text x="624.50" y="570.46" font-family="Liberation Sans" font-size="24" text-anchor="end" fill="#000" stroke="#000" stroke-width="0.3">1E-10</text>
<text x="624.50" y="605.85" font-family="Liberation Sans" font-size="24" text-anchor="end" fill="#000" stroke="#000" stroke-width="0.3">1E-11</text>
<text x="624.50" y="641.24" font-family="Liberation Sans" font-size="24" text-anchor="end" fill="#000" stroke="#000" stroke-width="0.3">1E-12</text>
<text x="624.50" y="676.63" font-family="Liberation Sans" font-size="24" text-anchor="end" fill="#000" stroke="#000" stroke-width="0.3">1E-13</text>
<text x="629.99" y="712.00" font-family="Liberation Sans" font-size="24" text-anchor="middle" fill="#000" stroke="#000" stroke-width="0.3">-40</text>
<text x="670.93" y="712.00" font-family="Liberation Sans" font-size="24" text-anchor="middle" fill="#000" stroke="#000" stroke-width="0.3">-30</text>
<text x="711.87" y="712.00" font-family="Liberation Sans" font-size="24" text-anchor="middle" fill="#000" stroke="#000" stroke-width="0.3">-20</text>
<text x="752.81" y="712.00" font-family="Liberation Sans" font-size="24" text-anchor="middle" fill="#000" stroke="#000" stroke-width="0.3">-10</text>
<text x="793.75" y="712.00" font-family="Liberation Sans" font-size="24" text-anchor="middle" fill="#000" stroke="#000" stroke-width="0.3">0</text>
<text x="834.69" y="712.00" font-family="Liberation Sans" font-size="24" text-anchor="middle" fill="#000" stroke="#000" stroke-width="0.3">10</text>
<text x="875.63" y="712.00" font-family="Liberation Sans" font-size="24" text-anchor="middle" fill="#000" stroke="#000" stroke-width="0.3">20</text>
<text x="916.57" y="712.00" font-family="Liberation Sans" font-size="24" text-anchor="middle" fill="#000" stroke="#000" stroke-width="0.3">30</text>
<text x="957.51" y="712.00" font-family="Liberation Sans" font-size="24" text-anchor="middle" fill="#000" stroke="#000" stroke-width="0.3">40</text>
<g clip-path="url(#clipd)">
<path d="M835.50,454.10 C835.57,454.83 836.48,456.28 835.90,458.50 C835.32,460.72 833.13,464.28 832.00,467.40 C830.87,470.52 829.92,473.58 829.10,477.20 C828.28,480.82 827.68,485.30 827.10,489.10 C826.52,492.90 826.20,495.68 825.60,500.00 C825.00,504.32 824.18,509.97 823.50,515.00 C822.82,520.03 822.23,524.37 821.50,530.20 C820.77,536.03 820.00,541.78 819.10,550.00 C818.20,558.22 817.25,569.65 816.10,579.50 C814.95,589.35 814.00,598.60 812.20,609.10 C810.40,619.60 809.08,634.97 805.30,642.50 C801.52,650.03 793.12,650.37 789.50,654.30 C785.88,658.23 785.23,662.82 783.60,666.10 C781.97,669.38 781.97,672.35 779.70,674.00 C777.43,675.65 772.95,674.33 770.00,676.00 C767.05,677.67 764.67,682.00 762.00,684.00 C759.33,686.00 755.33,687.33 754.00,688.00" fill="none" stroke="#444" stroke-width="2.2" stroke-linejoin="round" stroke-linecap="round"/>
<path d="M754.00,688.00 C755.00,687.67 758.02,687.02 760.00,686.00 C761.98,684.98 763.93,685.53 765.90,681.90 C767.87,678.27 769.17,669.12 771.80,664.20 C774.43,659.28 778.58,656.02 781.70,652.40 C784.82,648.78 787.88,649.72 790.50,642.50 C793.12,635.28 795.43,619.60 797.40,609.10 C799.37,598.60 800.82,589.02 802.30,579.50 C803.78,569.98 805.10,560.22 806.30,552.00 C807.50,543.78 808.50,536.87 809.50,530.20 C810.50,523.53 811.42,517.03 812.30,512.00 C813.18,506.97 813.98,504.15 814.80,500.00 C815.62,495.85 816.13,491.38 817.20,487.10 C818.27,482.82 819.72,478.08 821.20,474.30 C822.68,470.52 824.47,467.18 826.10,464.40 C827.73,461.62 829.43,459.32 831.00,457.60 C832.57,455.88 834.75,454.68 835.50,454.10" fill="none" stroke="#444" stroke-width="2.2" stroke-linejoin="round" stroke-linecap="round"/>
<path d="M875.60,438.70 C874.20,439.42 870.18,441.30 867.20,443.00 C864.22,444.70 860.67,446.35 857.70,448.90 C854.73,451.45 851.77,455.15 849.40,458.30 C847.03,461.45 845.07,465.03 843.50,467.80 C841.93,470.57 841.17,471.70 840.00,474.90 C838.83,478.10 837.58,482.82 836.50,487.00 C835.42,491.18 834.43,495.42 833.50,500.00 C832.57,504.58 832.00,508.15 830.90,514.50 C829.80,520.85 827.88,532.18 826.90,538.10 C825.92,544.02 825.98,543.10 825.00,550.00 C824.02,556.90 822.65,569.00 821.00,579.50 C819.35,590.00 817.40,601.52 815.10,613.00 C812.80,624.48 810.80,641.18 807.20,648.40 C803.60,655.62 798.08,652.68 793.50,656.30 C788.92,659.92 784.17,667.15 779.70,670.10 C775.23,673.05 770.82,672.68 766.70,674.00 C762.58,675.32 758.67,678.27 755.00,678.00 C751.33,677.73 748.53,673.33 744.70,672.40 C740.87,671.47 735.42,670.82 732.00,672.40 C728.58,673.98 726.53,681.30 724.20,681.90 C721.87,682.50 720.05,676.98 718.00,676.00 C715.95,675.02 712.92,676.00 711.90,676.00" fill="none" stroke="#ff44ff" stroke-width="2.4" stroke-linejoin="round" stroke-linecap="round"/>
<path d="M711.90,676.00 C712.92,676.33 715.95,677.02 718.00,678.00 C720.05,678.98 722.20,682.57 724.20,681.90 C726.20,681.23 727.37,675.65 730.00,674.00 C732.63,672.35 736.33,673.00 740.00,672.00 C743.67,671.00 748.67,669.30 752.00,668.00 C755.33,666.70 756.70,666.48 760.00,664.20 C763.30,661.92 768.18,658.90 771.80,654.30 C775.42,649.70 778.75,644.13 781.70,636.60 C784.65,629.07 787.22,618.62 789.50,609.10 C791.78,599.58 793.92,589.02 795.40,579.50 C796.88,569.98 797.38,560.22 798.40,552.00 C799.42,543.78 800.57,536.37 801.50,530.20 C802.43,524.03 803.18,520.03 804.00,515.00 C804.82,509.97 805.33,504.65 806.40,500.00 C807.47,495.35 808.92,491.55 810.40,487.10 C811.88,482.65 813.33,477.08 815.30,473.30 C817.27,469.52 819.90,467.02 822.20,464.40 C824.50,461.78 826.97,459.72 829.10,457.60 C831.23,455.48 832.35,453.47 835.00,451.70 C837.65,449.93 840.83,448.57 845.00,447.00 C849.17,445.43 854.90,443.68 860.00,442.30 C865.10,440.92 873.00,439.30 875.60,438.70" fill="none" stroke="#ff44ff" stroke-width="2.4" stroke-linejoin="round" stroke-linecap="round"/>
<path d="M916.00,434.20 C913.17,434.98 903.80,437.43 899.00,438.90 C894.20,440.37 891.13,441.33 887.20,443.00 C883.27,444.67 878.93,446.73 875.40,448.90 C871.87,451.07 868.95,453.25 866.00,456.00 C863.05,458.75 860.07,461.87 857.70,465.40 C855.33,468.93 853.57,472.87 851.80,477.20 C850.03,481.53 848.48,486.87 847.10,491.40 C845.72,495.93 844.58,500.07 843.50,504.40 C842.42,508.73 841.55,511.78 840.60,517.40 C839.65,523.02 838.70,532.33 837.80,538.10 C836.90,543.87 836.03,548.02 835.20,552.00 C834.37,555.98 833.52,557.42 832.80,562.00 C832.08,566.58 832.53,570.02 830.90,579.50 C829.27,588.98 825.97,607.73 823.00,618.90 C820.03,630.07 817.03,639.62 813.10,646.50 C809.17,653.38 804.32,655.95 799.40,660.20 C794.48,664.45 788.85,669.37 783.60,672.00 C778.35,674.63 772.02,674.08 767.90,676.00 C763.78,677.92 761.20,682.78 758.90,683.50 C756.60,684.22 756.47,681.62 754.10,680.30 C751.73,678.98 747.85,675.87 744.70,675.60 C741.55,675.33 738.35,678.97 735.20,678.70 C732.05,678.43 728.42,675.83 725.80,674.00 C723.18,672.17 721.87,669.40 719.50,667.70 C717.13,666.00 714.75,663.53 711.60,663.80 C708.45,664.07 703.75,667.60 700.60,669.30 C697.45,671.00 695.33,672.68 692.70,674.00 C690.07,675.32 688.22,674.70 684.80,677.20 C681.38,679.70 674.30,687.03 672.20,689.00" fill="none" stroke="#ff3838" stroke-width="2.2" stroke-linejoin="round" stroke-linecap="round"/>
<path d="M671.00,689.00 C672.78,688.73 678.87,688.85 681.70,687.40 C684.53,685.95 685.78,681.87 688.00,680.30 C690.22,678.73 692.90,677.47 695.00,678.00 C697.10,678.53 698.77,682.83 700.60,683.50 C702.43,684.17 703.90,682.53 706.00,682.00 C708.10,681.47 710.03,681.30 713.20,680.30 C716.37,679.30 721.37,676.63 725.00,676.00 C728.63,675.37 731.50,677.10 735.00,676.50 C738.50,675.90 742.82,674.13 746.00,672.40 C749.18,670.67 751.17,668.45 754.10,666.10 C757.03,663.75 760.98,662.55 763.60,658.30 C766.22,654.05 767.45,648.15 769.80,640.60 C772.15,633.05 775.40,623.18 777.70,613.00 C780.00,602.82 781.95,589.67 783.60,579.50 C785.25,569.33 786.37,560.22 787.60,552.00 C788.83,543.78 790.00,536.37 791.00,530.20 C792.00,524.03 792.67,520.03 793.60,515.00 C794.53,509.97 795.28,504.98 796.60,500.00 C797.92,495.02 799.70,489.38 801.50,485.10 C803.30,480.82 805.27,477.42 807.40,474.30 C809.53,471.18 811.52,469.03 814.30,466.40 C817.08,463.77 821.15,460.63 824.10,458.50 C827.05,456.37 829.35,455.18 832.00,453.60 C834.65,452.02 836.17,450.68 840.00,449.00 C843.83,447.32 850.00,444.95 855.00,443.50 C860.00,442.05 865.00,441.25 870.00,440.30 C875.00,439.35 880.00,438.52 885.00,437.80 C890.00,437.08 894.83,436.60 900.00,436.00 C905.17,435.40 913.33,434.50 916.00,434.20" fill="none" stroke="#ff3838" stroke-width="2.2" stroke-linejoin="round" stroke-linecap="round"/>
<path d="M957.00,434.20 C954.23,434.48 945.13,435.12 940.40,435.90 C935.67,436.68 932.53,437.72 928.60,438.90 C924.67,440.08 920.73,441.33 916.80,443.00 C912.87,444.67 908.95,446.53 905.00,448.90 C901.05,451.27 896.45,454.45 893.10,457.20 C889.75,459.95 887.45,462.25 884.90,465.40 C882.35,468.55 879.77,472.55 877.80,476.10 C875.83,479.65 874.48,483.17 873.10,486.70 C871.72,490.23 870.68,493.75 869.50,497.30 C868.32,500.85 867.08,504.22 866.00,508.00 C864.92,511.78 864.25,514.98 863.00,520.00 C861.75,525.02 860.00,531.43 858.50,538.10 C857.00,544.77 855.32,554.73 854.00,560.00 C852.68,565.27 852.48,564.80 850.60,569.70 C848.72,574.60 845.33,581.20 842.70,589.40 C840.07,597.60 837.43,610.37 834.80,618.90 C832.17,627.43 830.18,634.37 826.90,640.60 C823.62,646.83 819.68,651.38 815.10,656.30 C810.52,661.22 804.32,666.82 799.40,670.10 C794.48,673.38 788.88,674.20 785.60,676.00 C782.32,677.80 782.00,680.23 779.70,680.90 C777.40,681.57 774.10,680.82 771.80,680.00 C769.50,679.18 768.70,676.92 765.90,676.00 C763.10,675.08 759.07,675.10 755.00,674.50 C750.93,673.90 744.80,673.27 741.50,672.40 C738.20,671.53 738.35,670.08 735.20,669.30 C732.05,668.52 726.80,667.70 722.60,667.70 C718.40,667.70 713.77,667.92 710.00,669.30 C706.23,670.68 703.33,673.55 700.00,676.00 C696.67,678.45 693.33,681.33 690.00,684.00 C686.67,686.67 681.67,690.67 680.00,692.00" fill="none" stroke="#0a8a0a" stroke-width="2.8" stroke-linejoin="round" stroke-linecap="round"/>
<path d="M630.50,663.80 C631.95,664.32 636.18,664.93 639.20,666.90 C642.22,668.87 645.72,673.10 648.60,675.60 C651.48,678.10 653.60,680.07 656.50,681.90 C659.40,683.73 663.42,685.08 666.00,686.60 C668.58,688.12 670.00,690.27 672.00,691.00 C674.00,691.73 676.00,692.17 678.00,691.00 C680.00,689.83 681.82,685.78 684.00,684.00 C686.18,682.22 688.33,681.70 691.10,680.30 C693.87,678.90 697.70,676.78 700.60,675.60 C703.50,674.42 706.13,672.68 708.50,673.20 C710.87,673.72 712.97,676.07 714.80,678.70 C716.63,681.33 717.97,686.78 719.50,689.00 C721.03,691.22 722.42,692.17 724.00,692.00 C725.58,691.83 727.13,691.00 729.00,688.00 C730.87,685.00 732.58,677.12 735.20,674.00 C737.82,670.88 741.55,671.67 744.70,669.30 C747.85,666.93 750.95,664.02 754.10,659.80 C757.25,655.58 760.98,651.80 763.60,644.00 C766.22,636.20 767.78,623.75 769.80,613.00 C771.82,602.25 774.05,588.67 775.70,579.50 C777.35,570.33 778.45,564.90 779.70,558.00 C780.95,551.10 781.92,545.10 783.20,538.10 C784.48,531.10 786.07,522.35 787.40,516.00 C788.73,509.65 789.83,505.15 791.20,500.00 C792.57,494.85 793.88,489.55 795.60,485.10 C797.32,480.65 799.20,476.75 801.50,473.30 C803.80,469.85 806.45,467.02 809.40,464.40 C812.35,461.78 815.92,459.57 819.20,457.60 C822.48,455.63 825.82,454.17 829.10,452.60 C832.38,451.03 834.80,449.67 838.90,448.20 C843.00,446.73 848.52,445.20 853.70,443.80 C858.88,442.40 862.65,440.98 870.00,439.80 C877.35,438.62 888.25,437.53 897.80,436.70 C907.35,435.87 917.43,435.22 927.30,434.80 C937.17,434.38 952.05,434.30 957.00,434.20" fill="none" stroke="#0a8a0a" stroke-width="2.8" stroke-linejoin="round" stroke-linecap="round"/>
</g>
<line x1="836.80" y1="610.00" x2="879.10" y2="610.00" stroke="#444" stroke-width="2.8"/>
<text x="884.50" y="616.20" font-family="Liberation Sans" font-size="18" text-anchor="start" fill="#222" stroke="#222" stroke-width="0.3">+10-10V</text>
<line x1="836.80" y1="633.10" x2="879.10" y2="633.10" stroke="#ff55ff" stroke-width="2.8"/>
<text x="884.50" y="639.30" font-family="Liberation Sans" font-size="18" text-anchor="start" fill="#222" stroke="#222" stroke-width="0.3">+20-20V</text>
<line x1="836.80" y1="656.30" x2="879.10" y2="656.30" stroke="#ff4444" stroke-width="2.8"/>
<text x="884.50" y="662.50" font-family="Liberation Sans" font-size="18" text-anchor="start" fill="#222" stroke="#222" stroke-width="0.3">+30-30V</text>
<line x1="836.80" y1="678.90" x2="879.10" y2="678.90" stroke="#0a8a0a" stroke-width="2.8"/>
<text x="884.50" y="685.10" font-family="Liberation Sans" font-size="18" text-anchor="start" fill="#222" stroke="#222" stroke-width="0.3">+40-40V</text>
<text x="774.50" y="410.50" font-family="Liberation Serif" font-size="34" text-anchor="start" fill="#000">d</text>
<text x="791.00" y="410.50" font-family="Liberation Serif" font-size="34" text-anchor="start" fill="#000">)</text>
<text x="869.00" y="565.70" font-family="Liberation Sans" font-size="18.5" text-anchor="start" fill="#222" stroke="#222" stroke-width="0.3">Vd=10 mV</text>
<text x="869.00" y="589.30" font-family="Liberation Sans" font-size="18.5" text-anchor="start" fill="#222" stroke="#222" stroke-width="0.3">T= 150K</text>
<text x="541.50" y="563.30" font-family="Liberation Sans" text-anchor="middle" fill="#000" stroke="#000" stroke-width="0.3" transform="rotate(-90 541.5 563.3)"><tspan font-size="26" dy="0">I, A</tspan></text>
<text x="757.50" y="748.00" font-family="Liberation Sans" text-anchor="start" fill="#000" stroke="#000" stroke-width="0.3"><tspan font-size="26" dy="0">V</tspan><tspan font-size="15" dy="7">bg</tspan><tspan font-size="26" dy="-7">, V</tspan></text>
<path d="M774.85,524.76 L782.00,493.17 L785.71,494.01 L782.60,481.00 L774.20,491.40 L777.90,492.24 L770.75,523.84Z" fill="#3077c9" stroke="#3077c9" stroke-width="0.8" stroke-linejoin="round"/>
<path d="M893.33,490.54 L888.00,521.02 L884.26,520.36 L888.00,533.20 L895.88,522.40 L892.14,521.74 L897.47,491.26Z" fill="#3077c9" stroke="#3077c9" stroke-width="0.8" stroke-linejoin="round"/>
<line x1="106.80" y1="808.30" x2="433.50" y2="808.30" stroke="#999" stroke-width="1.4"/>
<line x1="107.50" y1="808.30" x2="107.50" y2="1075.00" stroke="#444" stroke-width="1.5"/>
<line x1="106.80" y1="1075.00" x2="433.50" y2="1075.00" stroke="#3a3a3a" stroke-width="1.6"/>
<line x1="433.50" y1="808.30" x2="433.50" y2="1075.00" stroke="#2a2aff" stroke-width="1.5"/>
<line x1="107.50" y1="812.80" x2="104.50" y2="812.80" stroke="#444" stroke-width="1.2"/>
<line x1="107.50" y1="835.30" x2="102.50" y2="835.30" stroke="#444" stroke-width="1.2"/>
<line x1="107.50" y1="857.80" x2="104.50" y2="857.80" stroke="#444" stroke-width="1.2"/>
<line x1="107.50" y1="880.30" x2="102.50" y2="880.30" stroke="#444" stroke-width="1.2"/>
<line x1="107.50" y1="902.80" x2="104.50" y2="902.80" stroke="#444" stroke-width="1.2"/>
<line x1="107.50" y1="925.30" x2="102.50" y2="925.30" stroke="#444" stroke-width="1.2"/>
<line x1="107.50" y1="947.80" x2="104.50" y2="947.80" stroke="#444" stroke-width="1.2"/>
<line x1="107.50" y1="970.30" x2="102.50" y2="970.30" stroke="#444" stroke-width="1.2"/>
<line x1="107.50" y1="992.80" x2="104.50" y2="992.80" stroke="#444" stroke-width="1.2"/>
<line x1="107.50" y1="1015.30" x2="102.50" y2="1015.30" stroke="#444" stroke-width="1.2"/>
<line x1="107.50" y1="1037.80" x2="104.50" y2="1037.80" stroke="#444" stroke-width="1.2"/>
<line x1="107.50" y1="1060.30" x2="102.50" y2="1060.30" stroke="#444" stroke-width="1.2"/>
<line x1="130.30" y1="1075.00" x2="130.30" y2="1080.00" stroke="#444" stroke-width="1.2"/>
<line x1="130.30" y1="808.30" x2="130.30" y2="812.30" stroke="#666" stroke-width="1.1"/>
<line x1="153.60" y1="1075.00" x2="153.60" y2="1078.00" stroke="#444" stroke-width="1.2"/>
<line x1="153.60" y1="808.30" x2="153.60" y2="810.80" stroke="#666" stroke-width="1.1"/>
<line x1="176.90" y1="1075.00" x2="176.90" y2="1080.00" stroke="#444" stroke-width="1.2"/>
<line x1="176.90" y1="808.30" x2="176.90" y2="812.30" stroke="#666" stroke-width="1.1"/>
<line x1="200.20" y1="1075.00" x2="200.20" y2="1078.00" stroke="#444" stroke-width="1.2"/>
<line x1="200.20" y1="808.30" x2="200.20" y2="810.80" stroke="#666" stroke-width="1.1"/>
<line x1="223.50" y1="1075.00" x2="223.50" y2="1080.00" stroke="#444" stroke-width="1.2"/>
<line x1="223.50" y1="808.30" x2="223.50" y2="812.30" stroke="#666" stroke-width="1.1"/>
<line x1="246.80" y1="1075.00" x2="246.80" y2="1078.00" stroke="#444" stroke-width="1.2"/>
<line x1="246.80" y1="808.30" x2="246.80" y2="810.80" stroke="#666" stroke-width="1.1"/>
<line x1="270.10" y1="1075.00" x2="270.10" y2="1080.00" stroke="#444" stroke-width="1.2"/>
<line x1="270.10" y1="808.30" x2="270.10" y2="812.30" stroke="#666" stroke-width="1.1"/>
<line x1="293.40" y1="1075.00" x2="293.40" y2="1078.00" stroke="#444" stroke-width="1.2"/>
<line x1="293.40" y1="808.30" x2="293.40" y2="810.80" stroke="#666" stroke-width="1.1"/>
<line x1="316.70" y1="1075.00" x2="316.70" y2="1080.00" stroke="#444" stroke-width="1.2"/>
<line x1="316.70" y1="808.30" x2="316.70" y2="812.30" stroke="#666" stroke-width="1.1"/>
<line x1="340.00" y1="1075.00" x2="340.00" y2="1078.00" stroke="#444" stroke-width="1.2"/>
<line x1="340.00" y1="808.30" x2="340.00" y2="810.80" stroke="#666" stroke-width="1.1"/>
<line x1="363.30" y1="1075.00" x2="363.30" y2="1080.00" stroke="#444" stroke-width="1.2"/>
<line x1="363.30" y1="808.30" x2="363.30" y2="812.30" stroke="#666" stroke-width="1.1"/>
<line x1="386.60" y1="1075.00" x2="386.60" y2="1078.00" stroke="#444" stroke-width="1.2"/>
<line x1="386.60" y1="808.30" x2="386.60" y2="810.80" stroke="#666" stroke-width="1.1"/>
<line x1="409.90" y1="1075.00" x2="409.90" y2="1080.00" stroke="#444" stroke-width="1.2"/>
<line x1="409.90" y1="808.30" x2="409.90" y2="812.30" stroke="#666" stroke-width="1.1"/>
<line x1="433.20" y1="1075.00" x2="433.20" y2="1078.00" stroke="#444" stroke-width="1.2"/>
<line x1="433.20" y1="808.30" x2="433.20" y2="810.80" stroke="#666" stroke-width="1.1"/>
<line x1="433.50" y1="1075.50" x2="437.50" y2="1075.50" stroke="#2a2aff" stroke-width="1.2"/>
<line x1="433.50" y1="1049.94" x2="436.00" y2="1049.94" stroke="#2a2aff" stroke-width="1.2"/>
<line x1="433.50" y1="1024.38" x2="437.50" y2="1024.38" stroke="#2a2aff" stroke-width="1.2"/>
<line x1="433.50" y1="998.82" x2="436.00" y2="998.82" stroke="#2a2aff" stroke-width="1.2"/>
<line x1="433.50" y1="973.26" x2="437.50" y2="973.26" stroke="#2a2aff" stroke-width="1.2"/>
<line x1="433.50" y1="947.70" x2="436.00" y2="947.70" stroke="#2a2aff" stroke-width="1.2"/>
<line x1="433.50" y1="922.14" x2="437.50" y2="922.14" stroke="#2a2aff" stroke-width="1.2"/>
<line x1="433.50" y1="896.58" x2="436.00" y2="896.58" stroke="#2a2aff" stroke-width="1.2"/>
<line x1="433.50" y1="871.02" x2="437.50" y2="871.02" stroke="#2a2aff" stroke-width="1.2"/>
<line x1="433.50" y1="845.46" x2="436.00" y2="845.46" stroke="#2a2aff" stroke-width="1.2"/>
<line x1="433.50" y1="819.90" x2="437.50" y2="819.90" stroke="#2a2aff" stroke-width="1.2"/>
<text x="98.50" y="841.60" font-family="Liberation Sans" font-size="22.5" text-anchor="end" fill="#111" stroke="#111" stroke-width="0.3">3.0E3</text>
<text x="98.50" y="886.60" font-family="Liberation Sans" font-size="22.5" text-anchor="end" fill="#111" stroke="#111" stroke-width="0.3">2.7E3</text>
<text x="98.50" y="931.60" font-family="Liberation Sans" font-size="22.5" text-anchor="end" fill="#111" stroke="#111" stroke-width="0.3">2.4E3</text>
<text x="98.50" y="976.60" font-family="Liberation Sans" font-size="22.5" text-anchor="end" fill="#111" stroke="#111" stroke-width="0.3">2.1E3</text>
<text x="98.50" y="1021.60" font-family="Liberation Sans" font-size="22.5" text-anchor="end" fill="#111" stroke="#111" stroke-width="0.3">1.8E3</text>
<text x="98.50" y="1066.60" font-family="Liberation Sans" font-size="22.5" text-anchor="end" fill="#111" stroke="#111" stroke-width="0.3">1.5E3</text>
<text x="440.50" y="826.40" font-family="Liberation Sans" font-size="22.5" text-anchor="start" fill="#1010ff" stroke="#1010ff" stroke-width="0.3">1.0</text>
<text x="440.50" y="877.46" font-family="Liberation Sans" font-size="22.5" text-anchor="start" fill="#1010ff" stroke="#1010ff" stroke-width="0.3">0.8</text>
<text x="440.50" y="928.52" font-family="Liberation Sans" font-size="22.5" text-anchor="start" fill="#1010ff" stroke="#1010ff" stroke-width="0.3">0.6</text>
<text x="440.50" y="979.58" font-family="Liberation Sans" font-size="22.5" text-anchor="start" fill="#1010ff" stroke="#1010ff" stroke-width="0.3">0.4</text>
<text x="440.50" y="1030.64" font-family="Liberation Sans" font-size="22.5" text-anchor="start" fill="#1010ff" stroke="#1010ff" stroke-width="0.3">0.2</text>
<text x="440.50" y="1081.70" font-family="Liberation Sans" font-size="22.5" text-anchor="start" fill="#1010ff" stroke="#1010ff" stroke-width="0.3">0.0</text>
<text x="130.30" y="1100.60" font-family="Liberation Sans" font-size="22.5" text-anchor="middle" fill="#111" stroke="#111" stroke-width="0.3">10</text>
<text x="176.90" y="1100.60" font-family="Liberation Sans" font-size="22.5" text-anchor="middle" fill="#111" stroke="#111" stroke-width="0.3">15</text>
<text x="223.50" y="1100.60" font-family="Liberation Sans" font-size="22.5" text-anchor="middle" fill="#111" stroke="#111" stroke-width="0.3">20</text>
<text x="270.10" y="1100.60" font-family="Liberation Sans" font-size="22.5" text-anchor="middle" fill="#111" stroke="#111" stroke-width="0.3">25</text>
<text x="316.70" y="1100.60" font-family="Liberation Sans" font-size="22.5" text-anchor="middle" fill="#111" stroke="#111" stroke-width="0.3">30</text>
<text x="363.30" y="1100.60" font-family="Liberation Sans" font-size="22.5" text-anchor="middle" fill="#111" stroke="#111" stroke-width="0.3">35</text>
<text x="409.90" y="1100.60" font-family="Liberation Sans" font-size="22.5" text-anchor="middle" fill="#111" stroke="#111" stroke-width="0.3">40</text>
<path d="M130.30,817.00 L223.50,904.15 L316.70,971.95 L409.90,1013.95" fill="none" stroke="#333" stroke-width="1.1" stroke-linejoin="round" stroke-linecap="round"/>
<path d="M130.30,1054.03 L223.50,998.82 L316.70,916.01 L409.90,819.90" fill="none" stroke="#5a5aff" stroke-width="1.1" stroke-linejoin="round" stroke-linecap="round"/>
<rect x="126.70" y="813.40" width="7.20" height="7.20" stroke="#000" stroke-width="0" fill="#000"/>
<rect x="219.90" y="900.55" width="7.20" height="7.20" stroke="#000" stroke-width="0" fill="#000"/>
<rect x="313.10" y="968.35" width="7.20" height="7.20" stroke="#000" stroke-width="0" fill="#000"/>
<rect x="406.30" y="1010.35" width="7.20" height="7.20" stroke="#000" stroke-width="0" fill="#000"/>
<rect x="126.70" y="1050.43" width="7.20" height="7.20" stroke="#00f" stroke-width="0" fill="#0000ff"/>
<rect x="219.90" y="995.22" width="7.20" height="7.20" stroke="#00f" stroke-width="0" fill="#0000ff"/>
<rect x="313.10" y="912.41" width="7.20" height="7.20" stroke="#00f" stroke-width="0" fill="#0000ff"/>
<rect x="406.30" y="816.30" width="7.20" height="7.20" stroke="#00f" stroke-width="0" fill="#0000ff"/>
<text x="261.90" y="792.50" font-family="Liberation Serif" font-size="34" text-anchor="start" fill="#000">e</text>
<text x="276.90" y="792.50" font-family="Liberation Serif" font-size="34" text-anchor="start" fill="#000">)</text>
<text x="243.00" y="834.80" font-family="Liberation Sans" font-size="21.8" text-anchor="start" fill="#111" stroke="#111" stroke-width="0.3">T=290K</text>
<text x="25" y="958.9" font-family="Liberation Sans" text-anchor="middle" fill="#111" stroke="#111" stroke-width="0.3" transform="rotate(-90 25 958.9)"><tspan font-size="23.5">μ, cm</tspan><tspan font-size="14" dy="-11.5">2</tspan><tspan font-size="23.5" dy="11.5">V</tspan><tspan font-size="14" dy="-11.5">-1</tspan><tspan font-size="23.5" dy="11.5">s</tspan><tspan font-size="14" dy="-11.5">-1</tspan></text>
<text x="497.80" y="945.30" font-family="Liberation Sans" font-size="23.4" text-anchor="middle" fill="#1010ff" stroke="#1010ff" stroke-width="0.3" transform="rotate(-90 497.8 945.3)">Norm. Hysteresis, a.u.</text>
<text x="207.50" y="1138.60" font-family="Liberation Sans" text-anchor="start" fill="#111" stroke="#111" stroke-width="0.3"><tspan font-size="23" dy="0">V</tspan><tspan font-size="14" dy="6">bg</tspan><tspan font-size="23" dy="-6"> range, V</tspan></text>
<line x1="616.30" y1="807.00" x2="942.50" y2="807.00" stroke="#444" stroke-width="1.4"/>
<line x1="617.00" y1="807.00" x2="617.00" y2="1074.00" stroke="#444" stroke-width="1.5"/>
<line x1="616.30" y1="1074.00" x2="942.50" y2="1074.00" stroke="#aaa" stroke-width="1.6"/>
<line x1="942.50" y1="807.00" x2="942.50" y2="1074.00" stroke="#2a2aff" stroke-width="1.5"/>
<line x1="617.00" y1="822.00" x2="612.00" y2="822.00" stroke="#444" stroke-width="1.2"/>
<line x1="617.00" y1="844.20" x2="614.00" y2="844.20" stroke="#444" stroke-width="1.2"/>
<line x1="617.00" y1="866.40" x2="612.00" y2="866.40" stroke="#444" stroke-width="1.2"/>
<line x1="617.00" y1="888.60" x2="614.00" y2="888.60" stroke="#444" stroke-width="1.2"/>
<line x1="617.00" y1="910.80" x2="612.00" y2="910.80" stroke="#444" stroke-width="1.2"/>
<line x1="617.00" y1="933.00" x2="614.00" y2="933.00" stroke="#444" stroke-width="1.2"/>
<line x1="617.00" y1="955.20" x2="612.00" y2="955.20" stroke="#444" stroke-width="1.2"/>
<line x1="617.00" y1="977.40" x2="614.00" y2="977.40" stroke="#444" stroke-width="1.2"/>
<line x1="617.00" y1="999.60" x2="612.00" y2="999.60" stroke="#444" stroke-width="1.2"/>
<line x1="617.00" y1="1021.80" x2="614.00" y2="1021.80" stroke="#444" stroke-width="1.2"/>
<line x1="617.00" y1="1044.00" x2="612.00" y2="1044.00" stroke="#444" stroke-width="1.2"/>
<line x1="640.10" y1="1074.00" x2="640.10" y2="1079.00" stroke="#444" stroke-width="1.2"/>
<line x1="640.10" y1="807.00" x2="640.10" y2="811.00" stroke="#666" stroke-width="1.1"/>
<line x1="663.35" y1="1074.00" x2="663.35" y2="1077.00" stroke="#444" stroke-width="1.2"/>
<line x1="663.35" y1="807.00" x2="663.35" y2="809.50" stroke="#666" stroke-width="1.1"/>
<line x1="686.60" y1="1074.00" x2="686.60" y2="1079.00" stroke="#444" stroke-width="1.2"/>
<line x1="686.60" y1="807.00" x2="686.60" y2="811.00" stroke="#666" stroke-width="1.1"/>
<line x1="709.85" y1="1074.00" x2="709.85" y2="1077.00" stroke="#444" stroke-width="1.2"/>
<line x1="709.85" y1="807.00" x2="709.85" y2="809.50" stroke="#666" stroke-width="1.1"/>
<line x1="733.10" y1="1074.00" x2="733.10" y2="1079.00" stroke="#444" stroke-width="1.2"/>
<line x1="733.10" y1="807.00" x2="733.10" y2="811.00" stroke="#666" stroke-width="1.1"/>
<line x1="756.35" y1="1074.00" x2="756.35" y2="1077.00" stroke="#444" stroke-width="1.2"/>
<line x1="756.35" y1="807.00" x2="756.35" y2="809.50" stroke="#666" stroke-width="1.1"/>
<line x1="779.60" y1="1074.00" x2="779.60" y2="1079.00" stroke="#444" stroke-width="1.2"/>
<line x1="779.60" y1="807.00" x2="779.60" y2="811.00" stroke="#666" stroke-width="1.1"/>
<line x1="802.85" y1="1074.00" x2="802.85" y2="1077.00" stroke="#444" stroke-width="1.2"/>
<line x1="802.85" y1="807.00" x2="802.85" y2="809.50" stroke="#666" stroke-width="1.1"/>
<line x1="826.10" y1="1074.00" x2="826.10" y2="1079.00" stroke="#444" stroke-width="1.2"/>
<line x1="826.10" y1="807.00" x2="826.10" y2="811.00" stroke="#666" stroke-width="1.1"/>
<line x1="849.35" y1="1074.00" x2="849.35" y2="1077.00" stroke="#444" stroke-width="1.2"/>
<line x1="849.35" y1="807.00" x2="849.35" y2="809.50" stroke="#666" stroke-width="1.1"/>
<line x1="872.60" y1="1074.00" x2="872.60" y2="1079.00" stroke="#444" stroke-width="1.2"/>
<line x1="872.60" y1="807.00" x2="872.60" y2="811.00" stroke="#666" stroke-width="1.1"/>
<line x1="895.85" y1="1074.00" x2="895.85" y2="1077.00" stroke="#444" stroke-width="1.2"/>
<line x1="895.85" y1="807.00" x2="895.85" y2="809.50" stroke="#666" stroke-width="1.1"/>
<line x1="919.10" y1="1074.00" x2="919.10" y2="1079.00" stroke="#444" stroke-width="1.2"/>
<line x1="919.10" y1="807.00" x2="919.10" y2="811.00" stroke="#666" stroke-width="1.1"/>
<line x1="942.35" y1="1074.00" x2="942.35" y2="1077.00" stroke="#444" stroke-width="1.2"/>
<line x1="942.35" y1="807.00" x2="942.35" y2="809.50" stroke="#666" stroke-width="1.1"/>
<line x1="942.50" y1="1062.20" x2="946.50" y2="1062.20" stroke="#2a2aff" stroke-width="1.2"/>
<line x1="942.50" y1="1037.96" x2="945.00" y2="1037.96" stroke="#2a2aff" stroke-width="1.2"/>
<line x1="942.50" y1="1013.72" x2="946.50" y2="1013.72" stroke="#2a2aff" stroke-width="1.2"/>
<line x1="942.50" y1="989.48" x2="945.00" y2="989.48" stroke="#2a2aff" stroke-width="1.2"/>
<line x1="942.50" y1="965.24" x2="946.50" y2="965.24" stroke="#2a2aff" stroke-width="1.2"/>
<line x1="942.50" y1="941.00" x2="945.00" y2="941.00" stroke="#2a2aff" stroke-width="1.2"/>
<line x1="942.50" y1="916.76" x2="946.50" y2="916.76" stroke="#2a2aff" stroke-width="1.2"/>
<line x1="942.50" y1="892.52" x2="945.00" y2="892.52" stroke="#2a2aff" stroke-width="1.2"/>
<line x1="942.50" y1="868.28" x2="946.50" y2="868.28" stroke="#2a2aff" stroke-width="1.2"/>
<line x1="942.50" y1="844.04" x2="945.00" y2="844.04" stroke="#2a2aff" stroke-width="1.2"/>
<line x1="942.50" y1="819.80" x2="946.50" y2="819.80" stroke="#2a2aff" stroke-width="1.2"/>
<text x="608.50" y="829.10" font-family="Liberation Sans" font-size="22.5" text-anchor="end" fill="#111" stroke="#111" stroke-width="0.3">3.0E3</text>
<text x="608.50" y="873.56" font-family="Liberation Sans" font-size="22.5" text-anchor="end" fill="#111" stroke="#111" stroke-width="0.3">2.7E3</text>
<text x="608.50" y="918.02" font-family="Liberation Sans" font-size="22.5" text-anchor="end" fill="#111" stroke="#111" stroke-width="0.3">2.4E3</text>
<text x="608.50" y="962.48" font-family="Liberation Sans" font-size="22.5" text-anchor="end" fill="#111" stroke="#111" stroke-width="0.3">2.1E3</text>
<text x="608.50" y="1006.94" font-family="Liberation Sans" font-size="22.5" text-anchor="end" fill="#111" stroke="#111" stroke-width="0.3">1.8E3</text>
<text x="608.50" y="1051.40" font-family="Liberation Sans" font-size="22.5" text-anchor="end" fill="#111" stroke="#111" stroke-width="0.3">1.5E3</text>
<text x="950.50" y="825.50" font-family="Liberation Sans" font-size="22.5" text-anchor="start" fill="#1010ff" stroke="#1010ff" stroke-width="0.3">1.0</text>
<text x="950.50" y="874.00" font-family="Liberation Sans" font-size="22.5" text-anchor="start" fill="#1010ff" stroke="#1010ff" stroke-width="0.3">0.8</text>
<text x="950.50" y="922.50" font-family="Liberation Sans" font-size="22.5" text-anchor="start" fill="#1010ff" stroke="#1010ff" stroke-width="0.3">0.6</text>
<text x="950.50" y="971.00" font-family="Liberation Sans" font-size="22.5" text-anchor="start" fill="#1010ff" stroke="#1010ff" stroke-width="0.3">0.4</text>
<text x="950.50" y="1019.50" font-family="Liberation Sans" font-size="22.5" text-anchor="start" fill="#1010ff" stroke="#1010ff" stroke-width="0.3">0.2</text>
<text x="950.50" y="1068.00" font-family="Liberation Sans" font-size="22.5" text-anchor="start" fill="#1010ff" stroke="#1010ff" stroke-width="0.3">0.0</text>
<text x="640.10" y="1100.30" font-family="Liberation Sans" font-size="22.5" text-anchor="middle" fill="#111" stroke="#111" stroke-width="0.3">10</text>
<text x="686.60" y="1100.30" font-family="Liberation Sans" font-size="22.5" text-anchor="middle" fill="#111" stroke="#111" stroke-width="0.3">15</text>
<text x="733.10" y="1100.30" font-family="Liberation Sans" font-size="22.5" text-anchor="middle" fill="#111" stroke="#111" stroke-width="0.3">20</text>
<text x="779.60" y="1100.30" font-family="Liberation Sans" font-size="22.5" text-anchor="middle" fill="#111" stroke="#111" stroke-width="0.3">25</text>
<text x="826.10" y="1100.30" font-family="Liberation Sans" font-size="22.5" text-anchor="middle" fill="#111" stroke="#111" stroke-width="0.3">30</text>
<text x="872.60" y="1100.30" font-family="Liberation Sans" font-size="22.5" text-anchor="middle" fill="#111" stroke="#111" stroke-width="0.3">35</text>
<text x="919.10" y="1100.30" font-family="Liberation Sans" font-size="22.5" text-anchor="middle" fill="#111" stroke="#111" stroke-width="0.3">40</text>
<path d="M640.10,842.13 L733.10,912.43 L826.10,1007.44 L919.10,1042.96" fill="none" stroke="#333" stroke-width="1.1" stroke-linejoin="round" stroke-linecap="round"/>
<path d="M640.10,1062.20 L733.10,1048.38 L826.10,1024.39 L919.10,992.63" fill="none" stroke="#5a5aff" stroke-width="1.1" stroke-linejoin="round" stroke-linecap="round"/>
<rect x="636.50" y="838.53" width="7.20" height="7.20" stroke="#000" stroke-width="0" fill="#000"/>
<rect x="729.50" y="908.83" width="7.20" height="7.20" stroke="#000" stroke-width="0" fill="#000"/>
<rect x="822.50" y="1003.84" width="7.20" height="7.20" stroke="#000" stroke-width="0" fill="#000"/>
<rect x="915.50" y="1039.36" width="7.20" height="7.20" stroke="#000" stroke-width="0" fill="#000"/>
<rect x="636.50" y="1058.60" width="7.20" height="7.20" stroke="#00f" stroke-width="0" fill="#0000ff"/>
<rect x="729.50" y="1044.78" width="7.20" height="7.20" stroke="#00f" stroke-width="0" fill="#0000ff"/>
<rect x="822.50" y="1020.79" width="7.20" height="7.20" stroke="#00f" stroke-width="0" fill="#0000ff"/>
<rect x="915.50" y="989.03" width="7.20" height="7.20" stroke="#00f" stroke-width="0" fill="#0000ff"/>
<text x="787.50" y="797.50" font-family="Liberation Serif" font-size="34" text-anchor="start" fill="#000">f</text>
<text x="797.80" y="797.50" font-family="Liberation Serif" font-size="34" text-anchor="start" fill="#000">)</text>
<text x="751.50" y="833.80" font-family="Liberation Sans" font-size="21.8" text-anchor="start" fill="#111" stroke="#111" stroke-width="0.3">T=150K</text>
<text x="535" y="948.5" font-family="Liberation Sans" text-anchor="middle" fill="#111" stroke="#111" stroke-width="0.3" transform="rotate(-90 535 948.5)"><tspan font-size="23.5">μ, cm</tspan><tspan font-size="14" dy="-11.5">2</tspan><tspan font-size="23.5" dy="11.5">V</tspan><tspan font-size="14" dy="-11.5">-1</tspan><tspan font-size="23.5" dy="11.5">s</tspan><tspan font-size="14" dy="-11.5">-1</tspan></text>
<text x="1010.00" y="944.10" font-family="Liberation Sans" font-size="23.4" text-anchor="middle" fill="#1010ff" stroke="#1010ff" stroke-width="0.3" transform="rotate(-90 1010 944.1)">Norm. Hysteresis, a.u.</text>
<text x="716.00" y="1139.00" font-family="Liberation Sans" text-anchor="start" fill="#111" stroke="#111" stroke-width="0.3"><tspan font-size="23" dy="0">V</tspan><tspan font-size="14" dy="6">bg</tspan><tspan font-size="23" dy="-6"> range, V</tspan></text>
<g id="footfix"><rect x="110.24" y="327.25" width="6.24" height="5.25" fill="#fff"/><rect x="118.79" y="327.25" width="5.58" height="5.25" fill="#fff"/><rect x="432.09" y="327.25" width="6.24" height="5.25" fill="#fff"/><rect x="440.64" y="327.25" width="5.58" height="5.25" fill="#fff"/><rect x="150.60" y="126.34" width="3.57" height="3.86" fill="#fff"/><rect x="155.49" y="126.34" width="3.19" height="3.86" fill="#fff"/><rect x="150.60" y="142.74" width="3.57" height="3.86" fill="#fff"/><rect x="155.49" y="142.74" width="3.19" height="3.86" fill="#fff"/><rect x="619.24" y="329.15" width="6.24" height="5.25" fill="#fff"/><rect x="627.79" y="329.15" width="5.58" height="5.25" fill="#fff"/><rect x="943.09" y="329.15" width="6.24" height="5.25" fill="#fff"/><rect x="951.64" y="329.15" width="5.58" height="5.25" fill="#fff"/><rect x="670.30" y="131.88" width="3.87" height="4.02" fill="#fff"/><rect x="675.60" y="131.88" width="3.46" height="4.02" fill="#fff"/><rect x="670.30" y="149.88" width="3.87" height="4.02" fill="#fff"/><rect x="675.60" y="149.88" width="3.46" height="4.02" fill="#fff"/><rect x="895.48" y="290.33" width="5.11" height="4.67" fill="#fff"/><rect x="902.49" y="290.33" width="4.58" height="4.67" fill="#fff"/><rect x="40.45" y="425.78" width="5.99" height="5.12" fill="#fff"/><rect x="48.66" y="425.78" width="5.36" height="5.12" fill="#fff"/><rect x="40.45" y="478.72" width="5.99" height="5.12" fill="#fff"/><rect x="48.66" y="478.72" width="5.36" height="5.12" fill="#fff"/><rect x="40.45" y="531.66" width="5.99" height="5.12" fill="#fff"/><rect x="48.66" y="531.66" width="5.36" height="5.12" fill="#fff"/><rect x="40.45" y="584.60" width="5.99" height="5.12" fill="#fff"/><rect x="48.66" y="584.60" width="5.36" height="5.12" fill="#fff"/><rect x="40.45" y="637.54" width="5.99" height="5.12" fill="#fff"/><rect x="48.66" y="637.54" width="5.36" height="5.12" fill="#fff"/><rect x="77.80" y="637.54" width="5.99" height="5.12" fill="#fff"/><rect x="86.00" y="637.54" width="5.36" height="5.12" fill="#fff"/><rect x="42.23" y="690.48" width="5.99" height="5.12" fill="#fff"/><rect x="50.44" y="690.48" width="5.36" height="5.12" fill="#fff"/><rect x="79.58" y="690.48" width="5.99" height="5.12" fill="#fff"/><rect x="87.78" y="690.48" width="5.36" height="5.12" fill="#fff"/><rect x="91.14" y="690.48" width="5.99" height="5.12" fill="#fff"/><rect x="99.34" y="690.48" width="5.36" height="5.12" fill="#fff"/><rect x="223.26" y="708.58" width="5.99" height="5.12" fill="#fff"/><rect x="231.46" y="708.58" width="5.36" height="5.12" fill="#fff"/><rect x="301.03" y="708.58" width="5.99" height="5.12" fill="#fff"/><rect x="309.23" y="708.58" width="5.36" height="5.12" fill="#fff"/><rect x="376.80" y="612.56" width="4.49" height="4.34" fill="#fff"/><rect x="382.95" y="612.56" width="4.02" height="4.34" fill="#fff"/><rect x="402.82" y="612.56" width="4.49" height="4.34" fill="#fff"/><rect x="408.97" y="612.56" width="4.02" height="4.34" fill="#fff"/><rect x="385.05" y="556.19" width="4.62" height="4.41" fill="#fff"/><rect x="391.37" y="556.19" width="4.13" height="4.41" fill="#fff"/><rect x="560.45" y="425.78" width="5.99" height="5.12" fill="#fff"/><rect x="568.66" y="425.78" width="5.36" height="5.12" fill="#fff"/><rect x="560.45" y="461.17" width="5.99" height="5.12" fill="#fff"/><rect x="568.66" y="461.17" width="5.36" height="5.12" fill="#fff"/><rect x="560.45" y="496.56" width="5.99" height="5.12" fill="#fff"/><rect x="568.66" y="496.56" width="5.36" height="5.12" fill="#fff"/><rect x="560.45" y="531.95" width="5.99" height="5.12" fill="#fff"/><rect x="568.66" y="531.95" width="5.36" height="5.12" fill="#fff"/><rect x="560.45" y="567.34" width="5.99" height="5.12" fill="#fff"/><rect x="568.66" y="567.34" width="5.36" height="5.12" fill="#fff"/><rect x="597.80" y="567.34" width="5.99" height="5.12" fill="#fff"/><rect x="606.00" y="567.34" width="5.36" height="5.12" fill="#fff"/><rect x="562.23" y="602.73" width="5.99" height="5.12" fill="#fff"/><rect x="570.44" y="602.73" width="5.36" height="5.12" fill="#fff"/><rect x="599.58" y="602.73" width="5.99" height="5.12" fill="#fff"/><rect x="607.78" y="602.73" width="5.36" height="5.12" fill="#fff"/><rect x="611.14" y="602.73" width="5.99" height="5.12" fill="#fff"/><rect x="619.34" y="602.73" width="5.36" height="5.12" fill="#fff"/><rect x="560.45" y="638.12" width="5.99" height="5.12" fill="#fff"/><rect x="568.66" y="638.12" width="5.36" height="5.12" fill="#fff"/><rect x="597.80" y="638.12" width="5.99" height="5.12" fill="#fff"/><rect x="606.00" y="638.12" width="5.36" height="5.12" fill="#fff"/><rect x="560.45" y="673.51" width="5.99" height="5.12" fill="#fff"/><rect x="568.66" y="673.51" width="5.36" height="5.12" fill="#fff"/><rect x="597.80" y="673.51" width="5.99" height="5.12" fill="#fff"/><rect x="606.00" y="673.51" width="5.36" height="5.12" fill="#fff"/><rect x="743.45" y="708.88" width="5.99" height="5.12" fill="#fff"/><rect x="751.65" y="708.88" width="5.36" height="5.12" fill="#fff"/><rect x="821.34" y="708.88" width="5.99" height="5.12" fill="#fff"/><rect x="829.54" y="708.88" width="5.36" height="5.12" fill="#fff"/><rect x="895.00" y="613.86" width="4.49" height="4.34" fill="#fff"/><rect x="901.15" y="613.86" width="4.02" height="4.34" fill="#fff"/><rect x="921.02" y="613.86" width="4.49" height="4.34" fill="#fff"/><rect x="927.17" y="613.86" width="4.02" height="4.34" fill="#fff"/><rect x="902.42" y="563.30" width="4.62" height="4.41" fill="#fff"/><rect x="908.75" y="563.30" width="4.13" height="4.41" fill="#fff"/><rect x="896.23" y="586.89" width="4.62" height="4.41" fill="#fff"/><rect x="902.56" y="586.89" width="4.13" height="4.41" fill="#fff"/><rect x="58.44" y="973.67" width="5.61" height="4.93" fill="#fff"/><rect x="66.13" y="973.67" width="5.02" height="4.93" fill="#fff"/><rect x="39.69" y="1018.67" width="5.61" height="4.93" fill="#fff"/><rect x="47.38" y="1018.67" width="5.02" height="4.93" fill="#fff"/><rect x="39.69" y="1063.67" width="5.61" height="4.93" fill="#fff"/><rect x="47.38" y="1063.67" width="5.02" height="4.93" fill="#fff"/><rect x="440.50" y="823.48" width="5.61" height="4.93" fill="#fff"/><rect x="448.19" y="823.48" width="5.02" height="4.93" fill="#fff"/><rect x="117.78" y="1097.67" width="5.61" height="4.93" fill="#fff"/><rect x="125.47" y="1097.67" width="5.02" height="4.93" fill="#fff"/><rect x="164.38" y="1097.67" width="5.61" height="4.93" fill="#fff"/><rect x="172.07" y="1097.67" width="5.02" height="4.93" fill="#fff"/><g transform="rotate(-90 25 958.9)"><rect x="52.04" y="945.58" width="3.49" height="3.82" fill="#fff"/><rect x="56.82" y="945.58" width="3.12" height="3.82" fill="#fff"/></g><g transform="rotate(-90 25 958.9)"><rect x="76.24" y="945.58" width="3.49" height="3.82" fill="#fff"/><rect x="81.03" y="945.58" width="3.12" height="3.82" fill="#fff"/></g><rect x="568.44" y="959.55" width="5.61" height="4.93" fill="#fff"/><rect x="576.13" y="959.55" width="5.02" height="4.93" fill="#fff"/><rect x="549.69" y="1004.02" width="5.61" height="4.93" fill="#fff"/><rect x="557.38" y="1004.02" width="5.02" height="4.93" fill="#fff"/><rect x="549.69" y="1048.48" width="5.61" height="4.93" fill="#fff"/><rect x="557.38" y="1048.48" width="5.02" height="4.93" fill="#fff"/><rect x="950.50" y="822.58" width="5.61" height="4.93" fill="#fff"/><rect x="958.19" y="822.58" width="5.02" height="4.93" fill="#fff"/><rect x="627.58" y="1097.38" width="5.61" height="4.93" fill="#fff"/><rect x="635.27" y="1097.38" width="5.02" height="4.93" fill="#fff"/><rect x="674.08" y="1097.38" width="5.61" height="4.93" fill="#fff"/><rect x="681.77" y="1097.38" width="5.02" height="4.93" fill="#fff"/><rect x="777.53" y="830.97" width="5.44" height="4.83" fill="#fff"/><rect x="784.98" y="830.97" width="4.87" height="4.83" fill="#fff"/><g transform="rotate(-90 535 948.5)"><rect x="562.04" y="935.18" width="3.49" height="3.82" fill="#fff"/><rect x="566.82" y="935.18" width="3.12" height="3.82" fill="#fff"/></g><g transform="rotate(-90 535 948.5)"><rect x="586.24" y="935.18" width="3.49" height="3.82" fill="#fff"/><rect x="591.03" y="935.18" width="3.12" height="3.82" fill="#fff"/></g></g><!--ff-->
</svg></body></html>
